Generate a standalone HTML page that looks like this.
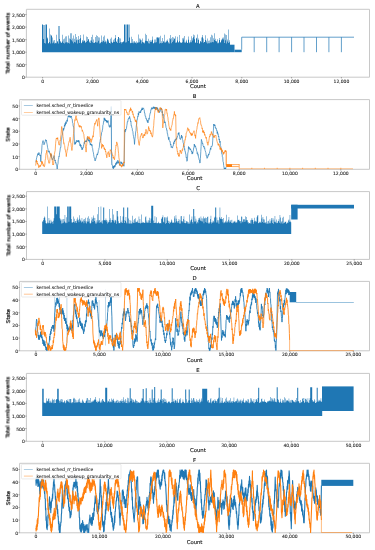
<!DOCTYPE html>
<html><head><meta charset="utf-8"><title>Figure</title>
<style>html,body{margin:0;padding:0;background:#fff;width:375px;height:550px;overflow:hidden}svg{display:block}text{fill:#1a1a1a;stroke:#1a1a1a;stroke-width:0.07px;filter:url(#tb)}.L{stroke:#000;stroke-width:0.12px}</style>
</head><body>
<svg width="375" height="550" viewBox="0 0 375 550" font-family="DejaVu Sans, Liberation Sans, sans-serif" fill="#000" text-rendering="geometricPrecision">
<defs><filter id="tb" x="-20%" y="-40%" width="140%" height="180%"><feGaussianBlur stdDeviation="0.28"/></filter></defs>
<rect width="375" height="550" fill="#fff"/>
<path d="M26.4 9.3H369.5V77.2H26.4Z" fill="none" stroke="#c8c8c8" stroke-width="1"/>
<text x="42.6" y="82.6" text-anchor="middle" font-size="4.5">0</text>
<text x="92.4" y="82.6" text-anchor="middle" font-size="4.5">2,000</text>
<text x="142.2" y="82.6" text-anchor="middle" font-size="4.5">4,000</text>
<text x="192" y="82.6" text-anchor="middle" font-size="4.5">6,000</text>
<text x="241.8" y="82.6" text-anchor="middle" font-size="4.5">8,000</text>
<text x="291.6" y="82.6" text-anchor="middle" font-size="4.5">10,000</text>
<text x="341.4" y="82.6" text-anchor="middle" font-size="4.5">12,000</text>
<text x="24.8" y="79.2" text-anchor="end" font-size="4.5">0</text>
<text x="24.8" y="66.6" text-anchor="end" font-size="4.5">500</text>
<text x="24.8" y="54.1" text-anchor="end" font-size="4.5">1,000</text>
<text x="24.8" y="41.6" text-anchor="end" font-size="4.5">1,500</text>
<text x="24.8" y="29" text-anchor="end" font-size="4.5">2,000</text>
<text x="24.8" y="16.5" text-anchor="end" font-size="4.5">2,500</text>
<path d="M42.6 77.2v1.2M92.4 77.2v1.2M142.2 77.2v1.2M192 77.2v1.2M241.8 77.2v1.2M291.6 77.2v1.2M341.4 77.2v1.2M25.2 77.2h1.2M25.2 64.7h1.2M25.2 52.2h1.2M25.2 39.7h1.2M25.2 27.1h1.2M25.2 14.6h1.2" stroke="#000" stroke-width="0.35"/>
<text x="197.9" y="7.6" text-anchor="middle" font-size="5.3" class="L">A</text>
<text x="197.9" y="88" text-anchor="middle" font-size="5.3" class="L">Count</text>
<text x="9.9" y="43.3" text-anchor="middle" font-size="5.3" class="L" style="stroke-width:0.2px" transform="rotate(-90 9.9 43.3)">Total number of events</text>
<path d="M19.6 99.6H369.5V169.3H19.6Z" fill="none" stroke="#c8c8c8" stroke-width="1"/>
<text x="35.7" y="174.7" text-anchor="middle" font-size="4.5">0</text>
<text x="86.5" y="174.7" text-anchor="middle" font-size="4.5">2,000</text>
<text x="137.4" y="174.7" text-anchor="middle" font-size="4.5">4,000</text>
<text x="188.2" y="174.7" text-anchor="middle" font-size="4.5">6,000</text>
<text x="239.1" y="174.7" text-anchor="middle" font-size="4.5">8,000</text>
<text x="289.9" y="174.7" text-anchor="middle" font-size="4.5">10,000</text>
<text x="340.8" y="174.7" text-anchor="middle" font-size="4.5">12,000</text>
<text x="18.1" y="171.2" text-anchor="end" font-size="4.5">0</text>
<text x="18.1" y="158.5" text-anchor="end" font-size="4.5">10</text>
<text x="18.1" y="145.9" text-anchor="end" font-size="4.5">20</text>
<text x="18.1" y="133.2" text-anchor="end" font-size="4.5">30</text>
<text x="18.1" y="120.6" text-anchor="end" font-size="4.5">40</text>
<text x="18.1" y="107.9" text-anchor="end" font-size="4.5">50</text>
<path d="M35.7 169.3v1.2M86.5 169.3v1.2M137.4 169.3v1.2M188.2 169.3v1.2M239.1 169.3v1.2M289.9 169.3v1.2M340.8 169.3v1.2M18.4 169.3h1.2M18.4 156.6h1.2M18.4 144h1.2M18.4 131.3h1.2M18.4 118.7h1.2M18.4 106h1.2" stroke="#000" stroke-width="0.35"/>
<text x="194.6" y="97.9" text-anchor="middle" font-size="5.3" class="L">B</text>
<text x="194.6" y="180.1" text-anchor="middle" font-size="5.3" class="L">Count</text>
<text x="10.1" y="134.4" text-anchor="middle" font-size="5.3" class="L" style="stroke-width:0.2px" transform="rotate(-90 10.1 134.4)">State</text>
<path d="M26.5 191.6H369.5V259.4H26.5Z" fill="none" stroke="#c8c8c8" stroke-width="1"/>
<text x="42.6" y="264.8" text-anchor="middle" font-size="4.5">0</text>
<text x="104.9" y="264.8" text-anchor="middle" font-size="4.5">5,000</text>
<text x="167.2" y="264.8" text-anchor="middle" font-size="4.5">10,000</text>
<text x="229.5" y="264.8" text-anchor="middle" font-size="4.5">15,000</text>
<text x="291.8" y="264.8" text-anchor="middle" font-size="4.5">20,000</text>
<text x="354.2" y="264.8" text-anchor="middle" font-size="4.5">25,000</text>
<text x="24.9" y="261.3" text-anchor="end" font-size="4.5">0</text>
<text x="24.9" y="248.7" text-anchor="end" font-size="4.5">500</text>
<text x="24.9" y="236" text-anchor="end" font-size="4.5">1,000</text>
<text x="24.9" y="223.4" text-anchor="end" font-size="4.5">1,500</text>
<text x="24.9" y="210.8" text-anchor="end" font-size="4.5">2,000</text>
<text x="24.9" y="198.1" text-anchor="end" font-size="4.5">2,500</text>
<path d="M42.6 259.4v1.2M104.9 259.4v1.2M167.2 259.4v1.2M229.5 259.4v1.2M291.8 259.4v1.2M354.2 259.4v1.2M25.3 259.4h1.2M25.3 246.8h1.2M25.3 234.1h1.2M25.3 221.5h1.2M25.3 208.9h1.2M25.3 196.2h1.2" stroke="#000" stroke-width="0.35"/>
<text x="198" y="189.9" text-anchor="middle" font-size="5.3" class="L">C</text>
<text x="198" y="270.2" text-anchor="middle" font-size="5.3" class="L">Count</text>
<text x="9.9" y="225.5" text-anchor="middle" font-size="5.3" class="L" style="stroke-width:0.2px" transform="rotate(-90 9.9 225.5)">Total number of events</text>
<path d="M19.6 281.4H369.5V350.8H19.6Z" fill="none" stroke="#c8c8c8" stroke-width="1"/>
<text x="35.9" y="356.2" text-anchor="middle" font-size="4.5">0</text>
<text x="99.4" y="356.2" text-anchor="middle" font-size="4.5">5,000</text>
<text x="162.9" y="356.2" text-anchor="middle" font-size="4.5">10,000</text>
<text x="226.3" y="356.2" text-anchor="middle" font-size="4.5">15,000</text>
<text x="289.8" y="356.2" text-anchor="middle" font-size="4.5">20,000</text>
<text x="353.3" y="356.2" text-anchor="middle" font-size="4.5">25,000</text>
<text x="18.1" y="352.7" text-anchor="end" font-size="4.5">0</text>
<text x="18.1" y="340" text-anchor="end" font-size="4.5">10</text>
<text x="18.1" y="327.4" text-anchor="end" font-size="4.5">20</text>
<text x="18.1" y="314.7" text-anchor="end" font-size="4.5">30</text>
<text x="18.1" y="302.1" text-anchor="end" font-size="4.5">40</text>
<text x="18.1" y="289.4" text-anchor="end" font-size="4.5">50</text>
<path d="M35.9 350.8v1.2M99.4 350.8v1.2M162.9 350.8v1.2M226.3 350.8v1.2M289.8 350.8v1.2M353.3 350.8v1.2M18.4 350.8h1.2M18.4 338.1h1.2M18.4 325.5h1.2M18.4 312.8h1.2M18.4 300.2h1.2M18.4 287.5h1.2" stroke="#000" stroke-width="0.35"/>
<text x="194.6" y="279.7" text-anchor="middle" font-size="5.3" class="L">D</text>
<text x="194.6" y="361.6" text-anchor="middle" font-size="5.3" class="L">Count</text>
<text x="10.1" y="316.1" text-anchor="middle" font-size="5.3" class="L" style="stroke-width:0.2px" transform="rotate(-90 10.1 316.1)">State</text>
<path d="M26.4 373.4H369.5V441.3H26.4Z" fill="none" stroke="#c8c8c8" stroke-width="1"/>
<text x="42.6" y="446.7" text-anchor="middle" font-size="4.5">0</text>
<text x="104.8" y="446.7" text-anchor="middle" font-size="4.5">10,000</text>
<text x="166.9" y="446.7" text-anchor="middle" font-size="4.5">20,000</text>
<text x="229.1" y="446.7" text-anchor="middle" font-size="4.5">30,000</text>
<text x="291.3" y="446.7" text-anchor="middle" font-size="4.5">40,000</text>
<text x="353.5" y="446.7" text-anchor="middle" font-size="4.5">50,000</text>
<text x="24.8" y="443.1" text-anchor="end" font-size="4.5">0</text>
<text x="24.8" y="430.5" text-anchor="end" font-size="4.5">500</text>
<text x="24.8" y="417.9" text-anchor="end" font-size="4.5">1,000</text>
<text x="24.8" y="405.3" text-anchor="end" font-size="4.5">1,500</text>
<text x="24.8" y="392.8" text-anchor="end" font-size="4.5">2,000</text>
<text x="24.8" y="380.1" text-anchor="end" font-size="4.5">2,500</text>
<path d="M42.6 441.3v1.2M104.8 441.3v1.2M166.9 441.3v1.2M229.1 441.3v1.2M291.3 441.3v1.2M353.5 441.3v1.2M25.2 441.2h1.2M25.2 428.6h1.2M25.2 416.1h1.2M25.2 403.4h1.2M25.2 390.9h1.2M25.2 378.2h1.2" stroke="#000" stroke-width="0.35"/>
<text x="197.9" y="371.7" text-anchor="middle" font-size="5.3" class="L">E</text>
<text x="197.9" y="452.1" text-anchor="middle" font-size="5.3" class="L">Count</text>
<text x="9.9" y="407.4" text-anchor="middle" font-size="5.3" class="L" style="stroke-width:0.2px" transform="rotate(-90 9.9 407.4)">Total number of events</text>
<path d="M19.6 463.3H369.5V532.8H19.6Z" fill="none" stroke="#c8c8c8" stroke-width="1"/>
<text x="35.9" y="538.1" text-anchor="middle" font-size="4.5">0</text>
<text x="99.4" y="538.1" text-anchor="middle" font-size="4.5">10,000</text>
<text x="162.9" y="538.1" text-anchor="middle" font-size="4.5">20,000</text>
<text x="226.3" y="538.1" text-anchor="middle" font-size="4.5">30,000</text>
<text x="289.8" y="538.1" text-anchor="middle" font-size="4.5">40,000</text>
<text x="353.3" y="538.1" text-anchor="middle" font-size="4.5">50,000</text>
<text x="18.1" y="534.7" text-anchor="end" font-size="4.5">0</text>
<text x="18.1" y="522" text-anchor="end" font-size="4.5">10</text>
<text x="18.1" y="509.4" text-anchor="end" font-size="4.5">20</text>
<text x="18.1" y="496.7" text-anchor="end" font-size="4.5">30</text>
<text x="18.1" y="484.1" text-anchor="end" font-size="4.5">40</text>
<text x="18.1" y="471.4" text-anchor="end" font-size="4.5">50</text>
<path d="M35.9 532.8v1.2M99.4 532.8v1.2M162.9 532.8v1.2M226.3 532.8v1.2M289.8 532.8v1.2M353.3 532.8v1.2M18.4 532.8h1.2M18.4 520.1h1.2M18.4 507.5h1.2M18.4 494.8h1.2M18.4 482.2h1.2M18.4 469.5h1.2" stroke="#000" stroke-width="0.35"/>
<text x="194.6" y="461.6" text-anchor="middle" font-size="5.3" class="L">F</text>
<text x="194.6" y="543.6" text-anchor="middle" font-size="5.3" class="L">Count</text>
<text x="10.1" y="498" text-anchor="middle" font-size="5.3" class="L" style="stroke-width:0.2px" transform="rotate(-90 10.1 498)">State</text>
<path d="M42 52.2V24.6H42.5V24.6H43V38.9H43.5V25.1H44V25.1H44.5V43.1H45V24.6H45.5V43.4H46V24.6H46.5V24.6H47V37.6H47.5V38.4H48V42.9H48.5V43.5H49V42H49.5V28.4H50V43.6H50.5V34.5H51V36.1H51.5V35.1H52V37.5H52.5V43.3H53V42.4H53.5V40.5H54V43.4H54.5V40H55V42.7H55.5V43.2H56V34.7H56.5V43.3H57V41H57.5V41.7H58V43.4H58.5V25.9H59V25.9H59.5V39.1H60V41.1H60.5V42.3H61V42.4H61.5V43.1H62V41.5H62.5V34.7H63V42.9H63.5V39.2H64V43.4H64.5V38.5H65V42.4H65.5V36.6H66V36.2H66.5V42.2H67V42H67.5V43.2H68V42.9H68.5V35.5H69V38.5H69.5V43.4H70V33.2H70.5V39.2H71V33.3H71.5V40.2H72V38.5H72.5V41.5H73V35.4H73.5V43.2H74V42.1H74.5V38.7H75V42.5H75.5V34.1H76V37.1H76.5V40.2H77V43.4H77.5V39.4H78V40.1H78.5V35.9H79V39H79.5V43H80V35.1H80.5V38.3H81V43.3H81.5V42.7H82V41.6H82.5V40.1H83V34.6H83.5V41.5H84V40.8H84.5V40.6H85V42.9H85.5V41.8H86V36.6H86.5V41.9H87V41.1H87.5V37H88V39.4H88.5V38.9H89V42.6H89.5V41.5H90V40.4H90.5V43H91V40.5H91.5V37.1H92V42.3H92.5V34.7H93V39.4H93.5V43.1H94V42.7H94.5V42.8H95V41.9H95.5V36.9H96V35.3H96.5V42.4H97V42.4H97.5V36H98V40.7H98.5V37.2H99V43.4H99.5V37.5H100V43.2H100.5V42.5H101V42.1H101.5V35.5H102V40.4H102.5V42.3H103V36.8H103.5V40.9H104V42.2H104.5V35.6H105V41.8H105.5V40.5H106V43.5H106.5V41.5H107V38.4H107.5V39.2H108V41.5H108.5V39.7H109V42.9H109.5V42.9H110V38.7H110.5V43.5H111V41.8H111.5V37.6H112V43H112.5V42.5H113V39.7H113.5V41.8H114V41.9H114.5V38.8H115V34.9H115.5V37.9H116V41.5H116.5V41.7H117V43H117.5V39.3H118V37H118.5V36.9H119V42.9H119.5V38.2H120V38.5H120.5V42.3H121V42H121.5V43.6H122V42.1H122.5V42.6H123V42H123.5V41H124V24.6H124.5V24.6H125V42.6H125.5V24.6H126V24.6H126.5V42.2H127V24.6H127.5V24.6H128V41H128.5V24.6H129V24.6H129.5V37.6H130V43.3H130.5V42.7H131V43.1H131.5V36.8H132V42.8H132.5V39H133V43.2H133.5V41.6H134V41H134.5V42.6H135V42.7H135.5V42.5H136V41.3H136.5V43.4H137V42.4H137.5V42.8H138V42.5H138.5V34.6H139V38.6H139.5V42.3H140V38.8H140.5V40.2H141V43.4H141.5V40.3H142V38.4H142.5V42H143V42.6H143.5V42.4H144V43.6H144.5V42.6H145V33.8H145.5V40.8H146V35H146.5V40.9H147V41.6H147.5V40.9H148V43.3H148.5V38.8H149V40.7H149.5V43.5H150V40.2H150.5V42.1H151V42.1H151.5V40.6H152V39.7H152.5V36.6H153V43.4H153.5V43H154V42.4H154.5V39.4H155V42.5H155.5V39.5H156V42.3H156.5V37.5H157V37.2H157.5V37.6H158V37.2H158.5V38.2H159V37.3H159.5V43.6H160V35.7H160.5V43.1H161V41.3H161.5V43.2H162V42.9H162.5V38.1H163V41.7H163.5V41.1H164V34.8H164.5V42.6H165V42.7H165.5V41.7H166V41.8H166.5V40.6H167V41.1H167.5V39.5H168V43.3H168.5V41.9H169V43.5H169.5V38.3H170V35.1H170.5V39.3H171V38.2H171.5V43.3H172V37H172.5V42H173V37.6H173.5V40.4H174V39H174.5V38.3H175V42.8H175.5V36.3H176V43H176.5V41.9H177V36.7H177.5V40.5H178V42.7H178.5V41.9H179V35H179.5V41.3H180V42.6H180.5V42.6H181V42.4H181.5V43.1H182V38.2H182.5V42.2H183V37.7H183.5V39.6H184V36H184.5V42.6H185V43H185.5V41.8H186V41.4H186.5V39.8H187V42.9H187.5V42.7H188V36.4H188.5V39.7H189V42.3H189.5V43.2H190V42.2H190.5V40.3H191V36.3H191.5V42.3H192V38.3H192.5V40.6H193V34.4H193.5V37.2H194V35.3H194.5V39.3H195V43.1H195.5V42.2H196V37.8H196.5V38.5H197V34.6H197.5V43.1H198V38.5H198.5V40H199V43.5H199.5V43.6H200V41.5H200.5V41.1H201V42.2H201.5V37.5H202V37.3H202.5V35.1H203V38.5H203.5V42.8H204V41.9H204.5V42.1H205V35.3H205.5V39.9H206V42.6H206.5V40.8H207V38.6H207.5V43.6H208V43.3H208.5V40.7H209V40.4H209.5V43.3H210V37.3H210.5V42.4H211V42.4H211.5V34.8H212V42.1H212.5V35.5H213V42.3H213.5V38.3H214V40H214.5V33.2H215V38.8H215.5V41H216V41H216.5V41.7H217V43.3H217.5V39.3H218V43.2H218.5V42.5H219V40H219.5V38.1H220V42.7H220.5V42.1H221V39.6H221.5V40.5H222V39.2H222.5V37.7H223V39.5H223.5V37.5H224V43H224.5V33.4H225V40.3H225.5V34.5H226V35H226.5V43.4H227V39.5H227.5V41.5H228V42.9H228.5V29.6H229V40.3H229.5V42.2H230V52.2Z" fill="#1f77b4"/>
<path d="M229.9 52.2V44.7H234.5V52.2Z" fill="#1f77b4"/>
<path d="M234.5 52.2V49.7H241.7V52.2Z" fill="#1f77b4"/>
<path d="M241.7 49.7V37.2H354M254.2 37.2V52.2M266.7 37.2V52.2M279.1 37.2V52.2M291.6 37.2V52.2M304 37.2V52.2M316.5 37.2V52.2M328.9 37.2V52.2M341.4 37.2V52.2" stroke="#1f77b4" stroke-width="0.7" fill="none"/>
<path d="M35.6 162 36 161.9 36.4 159 36.8 157.2 37.1 155.7 37.4 155.9 37.7 153.7 38 154.5 38.3 153.5 38.6 154.9 38.9 152.5 39.2 153.3 39.6 153.7 40 156 40.4 155.1 40.8 161.7 41.2 154.3 41.6 152 42 145.3 42.4 143.3 42.8 140.8 43.2 140.5 43.6 141.6 44 144.8 44.3 143.5 44.6 143.5 44.9 141.9 45.2 141.7 45.6 139.6 46 140.6 46.4 140 46.8 143.1 47.2 144.7 47.6 147.7 48 149.2 48.3 152.1 48.6 151.8 48.9 152.2 49.2 150.8 49.6 153.3 50 153.8 50.3 154.6 50.6 153.8 50.9 156.5 51.2 154.3 51.6 158 52 158 52.4 160 52.8 159.7 53.1 158.1 53.4 157.7 53.7 158.1 54 155.6 54.3 157.5 54.6 159 54.9 160.9 55.2 160 55.6 163.2 56 162.7 56.4 164.9 56.8 165.9 57.2 169 57.6 165.1 58 163.5 58.3 159.4 58.6 159.2 58.9 156.3 59.2 156.8 59.6 152.8 60 150.8 60.4 147.5 60.8 147.6 61.2 140.8 61.6 139.4 62 135.7 62.4 134.9 62.8 131.6 63 131.1 63.3 128.2 63.6 130.3 63.9 128.5 64.2 128.6 64.5 124.9 64.8 126.4 65.1 123.3 65.4 125.2 65.8 121.7 66.1 123.8 66.4 122.4 66.7 122.3 67 119.9 67.3 121.4 67.6 118.1 67.9 117.7 68.2 116 68.5 116.8 68.8 115 69.2 116.5 69.5 115.7 69.8 117.3 70.1 115.8 70.4 117.6 70.8 116.4 71.1 116.9 71.4 116 71.8 118.8 72.2 119.1 72.6 122.9 72.9 123.3 73.2 126.5 73.6 126.4 73.9 129.3 74.5 143.8 74.8 144.5 75.2 142.5 75.5 144.1 75.8 141.9 76.1 142.7 76.4 140.4 76.8 141.6 77.1 140.7 77.4 141.5 77.7 140.7 78 141.9 78.4 140.2 78.7 142.2 79 140.6 79.3 143.1 79.7 142.9 80 145.9 80.3 144.1 80.6 146.5 81 145 81.3 148 81.6 147.5 82 149.9 82.3 148.2 82.6 149.3 82.9 147.3 83.2 147.7 83.6 144.9 83.9 144.2 84.2 142.4 84.5 143.5 84.8 141.2 85.2 141.8 85.5 140.9 85.8 141.7 86.1 140.4 86.4 142 86.7 140.6 87 140.2 87.4 137.4 87.7 139.6 88 138.9 88.3 140.8 88.7 139.7 89 141.4 89.3 139.8 89.7 142.5 90 142.3 90.3 145.1 90.7 143.5 91 144.8 91.3 144 91.7 145.7 92 144.6 92.3 147.7 92.6 148.4 93 151.4 93.3 152.2 93.6 154.3 93.9 156.3 94.2 157.9 94.6 158.1 94.9 160.9 95.2 160.5 95.5 160.5 95.8 158 96.2 158.2 96.5 155.8 96.8 155.8 97.1 153.9 97.5 155 97.8 152.9 98.1 153.1 98.4 150.3 98.7 149.9 99 148 99.3 147.4 99.7 142.6 100 142.5 100.3 139.5 100.6 139.9 101 136.4 101.3 135.7 101.6 132.5 102 132.2 102.3 130.1 102.6 129 102.9 125.1 103.2 124.7 103.6 121.5 103.9 121.8 104.2 117.8 104.5 120.1 104.8 118.4 105.2 120.9 105.5 119.6 105.8 121 106.1 120.1 106.4 122.1 106.7 120.4 107 122.6 107.4 121 107.7 122.4 108 120.5 108.3 123.3 108.7 124 109 126.2 109.3 126.8 109.6 127.3 109.9 125.3 110.2 127.2 110.5 126.1 110.8 117.6 111.2 106.5 111.5 150.4 111.9 163.2 112.2 165.4 112.6 165.5 112.9 168.3 113.2 166.2 113.5 168.7 113.8 165.9 114.2 167.4 114.5 165.3 114.8 167.2 115.1 166 115.4 166 115.7 163.3 116 164.9 116.4 162.3 116.7 163.7 117 161.5 117.3 163.4 117.7 160.3 118 161 118.3 160.9 118.6 163.2 118.9 161.8 119.3 164.3 119.6 164.5 119.9 165.6 120.2 163.7 120.6 163.4 120.9 161.6 121.2 163 121.5 162.3 121.8 164.1 122.2 162.8 122.5 164.8 122.8 164 123.1 165.6 123.4 164.8 123.8 166.2 124.1 166.2 124.4 150 124.8 130.2 125.1 132.1 125.4 129 125.8 130.3 126.1 129.1 126.4 128.7 126.8 125.7 127.1 124.1 127.4 121.6 127.8 121.9 128.2 118.9 128.6 118.9 128.9 117.8 129.2 118.6 129.6 116.4 129.9 118 130.2 118.8 130.6 121.7 130.9 121.1 131.2 125.8 131.5 125.6 131.9 127.9 132.2 128.3 132.5 130.9 132.9 131.6 133.2 134.7 133.5 136.3 133.8 138.2 134.2 139.7 134.5 144.4 134.9 138.8 135.3 136.3 135.7 131.5 136 130.6 136.3 125.9 136.7 123.9 137 119.5 137.3 119.6 137.7 116.5 138 117 138.3 113.2 138.6 115.2 139 111.5 139.3 112.5 139.6 112.1 140 112.8 140.3 111.4 140.6 112.8 140.9 110.4 141.2 111.1 141.6 108.9 141.9 109.8 142.2 107.7 142.5 110 142.8 108.5 143.2 108.4 143.5 107.9 143.8 109.2 144.2 109.9 144.5 113 144.8 112.9 145.2 116.3 145.6 116.2 146 118.8 146.3 118.4 146.6 120.2 146.9 119.8 147.3 121.7 147.6 120.3 147.9 123 148.2 120.9 148.6 120.8 148.9 118.3 149.2 119.3 149.5 116.3 149.8 114.9 150.2 112.8 150.5 113 150.8 109.8 151.2 110 151.5 107.7 151.8 108.5 152.1 107.9 152.4 109.2 152.8 107.7 153.1 108.1 153.4 106.7 153.7 108.5 154 107.4 154.4 108.7 154.7 106.9 155 108.4 155.4 107.2 155.7 109.6 156 107.6 156.3 108.6 156.6 107.3 157 109.6 157.3 107.6 157.6 109.3 157.9 108.7 158.2 111.3 158.6 109.8 158.9 111.1 159.2 111 159.5 112.6 159.8 111.5 160.2 111.4 160.5 109.6 160.8 109.9 161.2 107.9 161.5 109.2 161.8 109.3 162.1 112.8 162.4 111.4 162.8 115.5 163.1 114.2 163.4 117.6 163.7 117.6 164.1 119.4 164.4 120.2 164.7 123 165.1 121.8 165.4 123.8 165.7 124.9 166 127.5 166.4 127.9 166.7 130.1 167 129.9 167.3 133.7 167.6 133.6 167.9 136.3 168.2 136.7 168.6 139.6 168.9 137.2 169.2 140.2 169.5 140.7 169.9 141.8 170.2 141.6 170.5 145.1 170.9 144.3 171.2 147.5 171.5 146.6 171.8 147.3 172.2 147.4 172.5 148.1 172.9 145.8 173.3 145.7 173.7 142.5 174 143.8 174.3 140.9 174.7 142 175 139.7 175.3 140.6 175.7 139.2 176 139.9 176.3 138.2 176.7 139.3 177 136.9 177.3 137.2 177.6 135.9 177.9 135.5 178.3 133 178.6 134.4 178.9 132.4 179.2 134.4 179.6 136 179.9 139.1 180.2 139.3 180.5 139.5 180.8 138 181.1 138.1 181.5 135 181.8 137.8 182.1 136.4 182.4 139.5 182.8 140.1 183.1 142.5 183.4 142.8 183.8 146.6 184.1 145.9 184.4 149.4 184.7 148.8 185 151.5 185.3 151.5 185.6 153.8 185.9 153.8 186.2 157.9 186.6 157.4 186.9 161.3 187.2 160.9 187.5 158.6 187.8 153 188.2 151.8 188.5 146.5 188.8 148.7 189.2 147.3 189.5 148.9 189.8 148.7 190.2 150.1 190.5 148.7 190.8 149.9 191.1 150.1 191.4 151.6 191.8 151 192.1 154.1 192.4 152.1 192.7 153.4 193 151.8 193.4 150.2 193.7 147.9 194 147.9 194.3 144 194.6 146.3 195 145.4 195.3 147 195.6 146.4 196 148.6 196.3 148.5 196.6 150.7 196.9 151.3 197.2 153.7 197.6 152.7 197.9 155.2 198.2 154.6 198.5 157.5 198.8 157.7 199.1 159.9 199.5 160 199.8 163.1 200.1 162.7 200.4 158.5 200.8 151.3 201.1 146.4 201.4 139.4 201.7 140.8 202.1 141.6 202.4 143.6 202.7 143.1 203.1 145.6 203.4 145.9 203.7 147.1 204 146.3 204.4 148.4 204.7 147.8 205 150.4 205.3 150.7 205.6 152.3 205.9 152.7 206.2 155.9 206.6 155.7 206.9 158.4 207.2 158.2 207.5 158 207.9 155.6 208.2 156.2 208.5 154.1 208.9 155 209.2 153 209.5 153 209.8 151.2 210.1 150.1 210.5 148.1 210.8 149.5 211.1 146.5 211.4 146.9 211.8 146.1 212.1 146.3 212.4 145.2 212.7 140.9 213.1 133.4 213.4 130.4 213.7 124.1 214 125.5 214.3 124.5 214.6 125.8 215 124.9 215.3 128 215.6 127.6 215.9 128.8 216.2 128.3 216.6 130.5 216.9 130.2 217.2 133.5 217.5 131.7 217.8 134.3 218.2 133.8 218.5 137 218.8 136.5 219.1 140.1 219.4 139.2 219.8 142.6 220.1 141.2 220.4 145.5 220.8 146.7 221.1 148.5 221.4 150.2 221.7 153.6 222.1 153.5 222.4 156.8 222.7 157.1 223 161.5 223.3 161.8 223.7 165.6 224 167.5 224.3 169 224.7 167.8 225 169 225.3 168 225.7 169 226 166.7" stroke="#1f77b4" stroke-width="0.65" fill="none" stroke-linejoin="round" opacity="1"/>
<path d="M111.4 165V108" stroke="#1f77b4" stroke-width="0.5" opacity="0.6"/>
<path d="M35.6 165.6 36 162.9 36.4 160 36.7 162.3 37 161 37.3 164.1 37.6 163 38 165.1 38.4 164.7 38.8 167.8 39.1 166 39.4 166.3 39.8 165.4 40.1 167 40.4 165.1 40.7 165.7 41 164.5 41.4 164.5 41.7 161 42 163.3 42.3 161.7 42.6 164.1 42.9 163.7 43.2 165.8 43.6 164.5 44 166.8 44.4 166.7 44.8 164.8 45.2 160.2 45.6 158.4 46 153.1 46.4 153 46.8 150.2 47.2 154.7 47.6 155.3 48 159.5 48.4 160.2 48.8 163.2 49.2 163.2 49.6 163.1 50 158.7 50.4 156.7 50.8 152.9 51.2 155.2 51.6 154.8 52 159.5 52.4 160.8 52.8 164.9 53.2 164 53.6 164.6 54 157.6 54.4 154.5 54.8 152 55.2 150.5 55.6 143.8 56 139.9 56.4 138 56.8 138.8 57.1 137.8 57.4 139.2 57.7 137.7 58 140.8 58.4 141.4 58.8 144.7 59.2 144.6 59.6 145.2 60 140.2 60.4 140.6 60.7 136.2 61 135.1 61.4 129.9 61.7 126.5 62 128.5 62.4 132.5 62.7 133 63 136.6 63.4 138.8 63.7 143.4 64 142.8 64.3 145.2 64.7 145.6 65 149.6 65.3 149.5 65.7 152.4 66 152.6 66.3 156.6 66.6 153.5 66.9 152.4 67.2 149.6 67.6 149.8 67.9 146.6 68.2 146.3 68.5 143.5 68.8 143 69.1 141.1 69.5 141.2 69.8 138.3 70.1 137.3 70.4 138.8 70.7 142.7 71 142.9 71.3 146.5 71.6 147.2 71.9 150.5 72.2 147.5 72.6 145.3 72.9 141.1 73.2 139.1 73.5 133.5 73.8 131 74.2 126.3 74.5 122.8 74.8 119.7 75.2 120.5 75.5 117.4 75.8 117.2 76.1 115.4 76.4 119.7 76.8 118.8 77.1 120.9 77.4 120.8 77.7 122.5 78 122.5 78.4 124.7 78.7 124.7 79 126.5 79.4 125.7 79.7 127.3 80 125.4 80.3 126.8 80.7 126.4 81 127.3 81.3 126.4 81.6 128.7 81.9 129.3 82.2 131.3 82.5 130.3 82.9 132 83.2 132.2 83.5 133.7 83.8 134.1 84.2 138.1 84.5 139.2 84.8 142.8 85.1 144 85.4 146.8 85.8 148.5 86.1 152.1 86.4 146.5 86.8 143.8 87.1 139.8 87.4 136.9 87.7 136.1 88.1 137.3 88.4 137 88.7 139 89.1 136.6 89.4 138.9 89.7 137.8 90 140 90.3 138.8 90.7 141.7 91 141.5 91.3 142.4 91.6 139.5 91.9 140.2 92.2 137.8 92.6 138 92.9 135.7 93.2 137 93.5 133 93.8 130.6 94.2 126.2 94.5 125.2 94.8 123.1 95.2 124.3 95.5 121.9 95.8 121.8 96.2 120.6 96.5 120.8 96.8 119.4 97.1 122.1 97.4 123.3 97.7 126.2 98 122.2 98.3 120.3 98.7 118 99 117.8 99.3 120.6 99.7 127 100 130.9 100.3 136.9 100.6 137.8 100.9 142.7 101.3 143.5 101.6 148.4 101.9 146.5 102.2 146.8 102.5 144.2 102.9 146.4 103.2 145 103.5 146.1 103.8 147.2 104.2 149.1 104.5 147.8 104.8 150 105.2 149 105.5 151.9 105.8 151.3 106.2 155.1 106.5 155 106.8 157.8 107.1 154.9 107.4 153.9 107.8 152.6 108.1 152 108.4 151.6 108.7 154.7 109 155.2 109.3 157 109.6 153.7 109.9 154.2 110.3 149.6 110.6 150.4 110.9 150.1 111.2 151.2 111.6 151.7 111.9 153.1 112.2 153.6 112.6 155.6 112.9 155.2 113.2 158.2 113.5 156.9 113.8 158.5 114.2 158.4 114.5 159.8 114.8 156.5 115.1 155.5 115.4 150.3 115.7 148.5 116 145.1 116.3 145.6 116.7 141.9 117 142.9 117.3 143.2 117.7 145.7 118 147.6 118.3 151 118.6 153.3 118.9 157.7 119.3 159.8 119.6 165.1 119.9 164.1 120.2 165.6 120.6 164.8 120.9 166.1 121.2 165.3 121.5 167.2 121.8 165.8 122.2 166.4 122.5 164.1 122.8 166 123.1 163.9 123.4 164.5 123.8 161.9 124.1 163.1 124.5 109.1 124.8 110 125.1 109.2 125.5 110.3 125.8 109.3 126.1 110.1 126.4 110.7 126.8 113 127.1 112.5 127.4 114.4 127.8 113.9 128.2 115.1 128.6 114.9 128.9 114.5 129.3 111.4 129.6 111.8 129.9 109.5 130.3 110.9 130.6 107.7 130.9 109.9 131.2 109.2 131.6 110.5 131.9 110.5 132.2 112.5 132.6 111.2 132.9 114.6 133.2 113.8 133.5 116.3 133.8 116 134.1 118.1 134.5 116.9 134.8 119.8 135.1 119.8 135.4 121.6 135.8 119.8 136.1 122.1 136.4 120.8 136.7 126 137.1 127.4 137.4 131.9 137.7 133.7 138 138.7 138.3 139.6 138.7 143.6 139 144.7 139.3 145.4 139.7 141.3 140 140.4 140.3 136.4 140.7 136.5 141.1 134.3 141.5 134.6 141.8 133 142.2 135.6 142.5 136.4 142.8 138.1 143.1 137 143.5 137.2 143.8 134.5 144.1 135.9 144.5 134.2 144.8 135.7 145.2 132.5 145.6 133.5 146 129.3 146.3 131.3 146.7 131.7 147 134.2 147.3 133.7 147.6 133.4 147.9 130.6 148.3 130.5 148.6 126.5 148.9 128.9 149.2 128.5 149.6 131 149.9 130.1 150.2 131.5 150.5 130.8 150.8 133.9 151.2 132.7 151.5 135.2 151.8 134.9 152.2 137 152.5 137.1 152.9 134.6 153.3 128.8 153.7 125.5 154 120.2 154.3 118.6 154.7 112.6 155 110.6 155.3 108.7 155.7 110.1 156 107.1 156.3 108 156.6 107.9 157 109.7 157.3 109.3 157.6 111 158 111.9 158.3 112.8 158.6 110.8 158.9 112 159.2 109.5 159.6 109.7 159.9 107.7 160.2 108.6 160.5 107.6 160.8 109.2 161.1 108.3 161.5 109.8 161.8 108.9 162.1 110 162.4 118.4 162.8 127.9 163.1 124.2 163.4 123.8 163.8 119.6 164.1 118 164.4 115.1 164.8 114.5 165.1 109.9 165.4 109.1 165.8 109.1 166.2 110.6 166.6 109.1 166.9 113.2 167.2 112.9 167.6 116.4 167.9 117.2 168.2 120.7 168.6 122.2 168.9 125.8 169.2 126.6 169.5 128.9 169.8 128.3 170.2 130.2 170.5 129.3 170.8 130.6 171.2 127.6 171.5 127.1 171.8 125.4 172.1 125.1 172.4 121.8 172.8 120.1 173.1 118.1 173.4 118.4 173.8 114.8 174.1 115.1 174.4 111.4 174.7 114.8 175.1 114 175.4 116.2 175.7 115 176 131.4 176.3 145.3 176.6 148.1 176.9 147.6 177.3 151.7 177.6 151.3 177.9 154.4 178.2 153.2 178.6 156.2 178.9 155.3 179.2 156.5 179.6 154 179.9 153 180.2 150 180.5 151.6 180.8 151.1 181.2 153.3 181.5 153.7 181.8 151.8 182.2 149.6 182.5 150.5 182.8 148.2 183.2 147.8 183.6 144.7 184 145.5 184.3 143.6 184.6 143 184.9 139.5 185.3 139.9 185.6 136.6 185.9 137.2 186.2 132.9 186.6 132.6 186.9 131.7 187.2 130.8 187.6 127.8 187.9 127.8 188.2 128.4 188.5 130.5 188.9 129.2 189.2 131.5 189.5 131.4 189.8 132.8 190.1 132.5 190.4 133.7 190.8 132.9 191.1 135.3 191.4 133.5 191.7 135.7 192 134.1 192.4 135.2 192.7 133 193 132.8 193.4 132.4 193.7 132.1 194 130.7 194.3 133.3 194.6 134 195 136.1 195.3 135.2 195.6 138.4 195.9 134.2 196.2 133.2 196.6 129.7 196.9 129.4 197.2 126 197.5 125.8 197.8 122.7 198.2 123.3 198.5 120 198.8 118.9 199.2 118 199.5 118.3 199.8 117.6 200.2 120.3 200.5 120.7 200.8 124.4 201.1 124.4 201.4 126 201.8 126.3 202.1 129 202.4 128.4 202.7 132.3 203 130.9 203.3 132.5 203.6 130.5 204 133.2 204.3 132.2 204.6 135.3 204.9 134.3 205.3 135.9 205.6 136.6 205.9 138.3 206.3 137.2 206.6 139.6 206.9 140.9 207.2 143.1 207.6 142.4 207.9 145.3 208.2 143.2 208.5 142.9 208.9 140.5 209.2 138.4 209.5 136.4 209.8 137 210.1 134.4 210.4 135.3 210.8 133.9 211.1 134.3 211.4 131.5 211.7 133.2 212 133.2 212.4 135.3 212.7 133.9 213 135.2 213.4 136 213.7 137.5 214 135.9 214.3 137.5 214.6 135.5 215 135.8 215.3 135.3 215.6 136 215.9 135.5 216.2 138.2 216.6 138.8 216.9 141.1 217.2 141.7 217.5 143.2 217.8 143.7 218.2 145.3 218.5 143.7 218.8 145.3 219.2 144.6 219.5 147 219.8 146.6 220.1 149.5 220.4 147.4 220.8 149.6 221.1 148.1 221.4 150.4 221.7 149.2 222.1 151.9 222.4 150.2 222.7 152.5 223.1 152.4 223.4 154.4 223.7 152.1 224.1 153.5 224.4 152 224.7 152.1 225 150.5 225.3 152 225.7 150.2 226 151" stroke="#ff7f0e" stroke-width="0.65" fill="none" stroke-linejoin="round" opacity="1"/>
<path d="M226.2 151V165.6" stroke="#ff7f0e" stroke-width="0.9" fill="none"/>
<rect x="226.2" y="164.1" width="5.8" height="2.9" fill="#ff7f0e"/>
<path d="M232 164.6H239.2M232 166.6H238.8M239.2 164.1V168.6" stroke="#ff7f0e" stroke-width="0.8" fill="none" stroke-opacity="0.85"/>
<path d="M239.2 168.7H353" stroke="#ff7f0e" stroke-width="0.7" fill="none" stroke-opacity="0.6"/>
<path d="M251.8 168.8v-1.0M264.5 168.8v-1.0M277.2 168.8v-1.0M289.9 168.8v-1.0M302.6 168.8v-1.0M315.3 168.8v-1.0M328 168.8v-1.0M340.8 168.8v-1.0" stroke="#ff7f0e" stroke-width="0.7"/>
<path d="M42.2 234.1V221.5H42.7V221.5H43.2V220.1H43.7V218.1H44.2V216.6H44.7V217.4H45.2V220.6H45.7V223.1H46.2V223.4H46.7V223.6H47.2V206.4H47.7V222.4H48.2V223.3H48.7V217.9H49.2V220.6H49.7V223.1H50.2V223.4H50.7V219.7H51.2V222.5H51.7V221.1H52.2V221.9H52.7V223.7H53.2V220.7H53.7V218.3H54.2V206.4H54.7V206.4H55.2V206.4H55.7V206.4H56.2V214.2H56.7V206.6H57.2V206.6H57.7V206.6H58.2V206.6H58.7V206.6H59.2V206.6H59.7V218.2H60.2V220.4H60.7V218.9H61.2V223.6H61.7V220.3H62.2V223.2H62.7V219H63.2V222.7H63.7V218.9H64.2V221.6H64.7V214.9H65.2V222.5H65.7V223.3H66.2V217.3H66.7V222.7H67.2V206.4H67.7V206.4H68.2V206.4H68.7V221.7H69.2V206.4H69.7V206.4H70.2V206.4H70.7V206.4H71.2V219.1H71.7V222.6H72.2V222.7H72.7V222.1H73.2V216.4H73.7V222.1H74.2V218.7H74.7V222.9H75.2V221.2H75.7V221.1H76.2V223.1H76.7V219.2H77.2V217.4H77.7V220.6H78.2V219.8H78.7V222.3H79.2V215.3H79.7V218.8H80.2V220.3H80.7V221.3H81.2V222.5H81.7V217.9H82.2V221.6H82.7V221.5H83.2V219.4H83.7V223.2H84.2V218.9H84.7V220.9H85.2V217.7H85.7V222.5H86.2V223.6H86.7V221.1H87.2V217.8H87.7V222.1H88.2V216.3H88.7V221.2H89.2V218.7H89.7V223.2H90.2V223.4H90.7V222.8H91.2V220.6H91.7V217.3H92.2V218.7H92.7V221.9H93.2V215.5H93.7V217.7H94.2V220.9H94.7V218H95.2V223.6H95.7V221.7H96.2V223.4H96.7V220.2H97.2V214.3H97.7V222.5H98.2V206.9H98.7V220.4H99.2V220.1H99.7V223.1H100.2V222.1H100.7V206.4H101.2V222.6H101.7V220.8H102.2V223.6H102.7V220.3H103.2V207.6H103.7V207.6H104.2V219.9H104.7V220.4H105.2V220.3H105.7V218.6H106.2V220.1H106.7V221.7H107.2V223.4H107.7V220.4H108.2V222.6H108.7V222.1H109.2V208.9H109.7V220.1H110.2V218.3H110.7V222.8H111.2V222.2H111.7V219.9H112.2V209.1H112.7V219.9H113.2V214.4H113.7V221.2H114.2V222.8H114.7V219.8H115.2V220.1H115.7V221.2H116.2V223.7H116.7V210.9H117.2V210.9H117.7V216.4H118.2V221.2H118.7V223.3H119.2V222.9H119.7V223.2H120.2V216.1H120.7V222.3H121.2V222.4H121.7V220.6H122.2V222.9H122.7V216.5H123.2V207.6H123.7V207.6H124.2V223H124.7V220H125.2V220.9H125.7V217H126.2V222.5H126.7V223.6H127.2V207.6H127.7V207.6H128.2V218.5H128.7V223.5H129.2V223.6H129.7V220.1H130.2V223.5H130.7V220.8H131.2V223.6H131.7V223.4H132.2V215.7H132.7V222.2H133.2V222.9H133.7V220.2H134.2V219.1H134.7V223.1H135.2V218.2H135.7V221.8H136.2V222.2H136.7V221.7H137.2V220.4H137.7V222.6H138.2V223.1H138.7V216.5H139.2V223H139.7V219.1H140.2V223.6H140.7V222.8H141.2V214.5H141.7V223H142.2V221.7H142.7V222.9H143.2V222.1H143.7V222.7H144.2V222.8H144.7V223.1H145.2V217.2H145.7V216.3H146.2V222.5H146.7V220.4H147.2V222.9H147.7V222H148.2V220.3H148.7V223.1H149.2V217.8H149.7V220.4H150.2V222.9H150.7V218.4H151.2V205.8H151.7V205.8H152.2V205.8H152.7V205.8H153.2V220.6H153.7V222.9H154.2V222.9H154.7V216.2H155.2V222.7H155.7V222.7H156.2V217.3H156.7V223.2H157.2V223.3H157.7V223.1H158.2V221.7H158.7V222.8H159.2V223.4H159.7V223H160.2V222.9H160.7V223.5H161.2V219.1H161.7V217.8H162.2V217H162.7V215.2H163.2V221.7H163.7V222.4H164.2V216.9H164.7V218.3H165.2V223.7H165.7V217H166.2V222.9H166.7V217.7H167.2V216.6H167.7V220.4H168.2V223.1H168.7V221.1H169.2V223.7H169.7V221.8H170.2V222.9H170.7V222H171.2V219.4H171.7V220.5H172.2V222.6H172.7V223.1H173.2V222.3H173.7V223.1H174.2V216.3H174.7V218.6H175.2V222.5H175.7V215.2H176.2V218.7H176.7V221.2H177.2V221.4H177.7V222.9H178.2V221H178.7V219H179.2V223.6H179.7V220.3H180.2V223.4H180.7V216.2H181.2V216.1H181.7V221.2H182.2V221.2H182.7V222.5H183.2V219.1H183.7V216.3H184.2V222.9H184.7V220.2H185.2V223.2H185.7V222.9H186.2V221.2H186.7V221.2H187.2V221.8H187.7V223.5H188.2V222.3H188.7V223.7H189.2V214.5H189.7V223.5H190.2V221.6H190.7V220H191.2V219.2H191.7V216.5H192.2V222H192.7V223.5H193.2V208.9H193.7V208.9H194.2V221.6H194.7V216.2H195.2V221.6H195.7V218.7H196.2V223.6H196.7V220.6H197.2V222.1H197.7V223.3H198.2V219.8H198.7V218H199.2V217.8H199.7V219.4H200.2V220.7H200.7V216.6H201.2V221.2H201.7V218.3H202.2V221.5H202.7V218.6H203.2V216.5H203.7V223.2H204.2V218.3H204.7V218.5H205.2V217.4H205.7V222.1H206.2V218.1H206.7V222.9H207.2V217.1H207.7V216.6H208.2V223.5H208.7V222.5H209.2V223.6H209.7V222.2H210.2V219H210.7V215.7H211.2V223.5H211.7V222.1H212.2V222.8H212.7V220.6H213.2V221.3H213.7V222.5H214.2V217.8H214.7V216.8H215.2V207.6H215.7V207.6H216.2V222.5H216.7V217.4H217.2V220.2H217.7V222.5H218.2V220.2H218.7V223.7H219.2V217.2H219.7V207.6H220.2V218.5H220.7V219H221.2V216.9H221.7V219.3H222.2V218.9H222.7V222.2H223.2V218.1H223.7V223.3H224.2V222.2H224.7V222.8H225.2V220.7H225.7V222.1H226.2V214.7H226.7V222.8H227.2V221.2H227.7V222.3H228.2V219.7H228.7V217H229.2V222.6H229.7V220.8H230.2V221.7H230.7V220.1H231.2V223.1H231.7V219.8H232.2V223.2H232.7V222.6H233.2V222.5H233.7V221.2H234.2V221.7H234.7V220.7H235.2V222.7H235.7V221.8H236.2V222.5H236.7V222.5H237.2V215.6H237.7V220.3H238.2V220.1H238.7V219.4H239.2V220.7H239.7V221.4H240.2V221H240.7V223.2H241.2V216.5H241.7V216.8H242.2V221.6H242.7V222.3H243.2V219.3H243.7V219.6H244.2V219.2H244.7V222.1H245.2V216.2H245.7V220.6H246.2V217H246.7V219.9H247.2V220.2H247.7V222.4H248.2V222.3H248.7V223.8H249.2V222.9H249.7V223H250.2V220.2H250.7V223.8H251.2V219.7H251.7V218.1H252.2V219.8H252.7V220.3H253.2V223.7H253.7V222H254.2V217.7H254.7V221.1H255.2V220.8H255.7V222.2H256.2V221.6H256.7V217.3H257.2V215.7H257.7V215.1H258.2V223.3H258.7V222.9H259.2V221.7H259.7V222.6H260.2V221.8H260.7V223H261.2V214.8H261.7V218.5H262.2V221.9H262.7V217.1H263.2V219.2H263.7V223H264.2V219.4H264.7V222.5H265.2V223.3H265.7V222H266.2V216.2H266.7V223.7H267.2V223.5H267.7V221.2H268.2V220.8H268.7V223.8H269.2V222.7H269.7V219.3H270.2V223.2H270.7V221.3H271.2V218.1H271.7V219.8H272.2V222.9H272.7V217.9H273.2V223.7H273.7V219.4H274.2V221.8H274.7V216.1H275.2V221.7H275.7V222.8H276.2V219.6H276.7V223.3H277.2V222.9H277.7V221.5H278.2V221.1H278.7V219.3H279.2V222.8H279.7V214.9H280.2V217.5H280.7V223.4H281.2V222.3H281.7V220.9H282.2V217.7H282.7V223.8H283.2V216.7H283.7V222.9H284.2V222.8H284.7V221.7H285.2V221.9H285.7V221.5H286.2V223.7H286.7V223.2H287.2V222.2H287.7V222.9H288.2V220.5H288.7V219.4H289.2V221.8H289.7V214.9H290.2V221.6H290.7V222.3H291.2V234.1Z" fill="#1f77b4"/>
<path d="M291.2 234.1V204.8H297.6V219.5H291.2Z" fill="#1f77b4"/>
<rect x="291.2" y="204.8" width="62.8" height="3.7" fill="#1f77b4"/>
<path d="M35.3 333 35.6 332.4 35.8 327.8 36.1 326.4 36.3 321.7 36.6 319.2 36.9 320.6 37.1 326 37.4 325.8 37.6 331.8 37.9 331.9 38.2 336.3 38.4 335.1 38.7 339.4 38.9 335.7 39.2 339.9 39.5 337.2 39.7 337.6 40 334.9 40.3 336.8 40.6 331.8 40.8 336.3 41.1 332.1 41.4 338.2 41.6 333.4 41.9 337.5 42.2 336.8 42.5 340.9 42.7 338.8 43 344 43.2 340.6 43.5 344.5 43.8 340.1 44 345.9 44.2 342.6 44.5 346.2 44.8 341.3 45 344.5 45.3 344 45.5 347.5 45.8 346.5 46 350 46.3 347.1 46.6 350.5 46.9 347.8 47.2 350.5 47.5 349.3 47.8 349.3 48 343.5 48.3 347.2 48.5 344.7 48.8 346.3 49.1 342.4 49.3 342.3 49.6 336.1 49.8 340.3 50.1 333.8 50.4 334.9 50.6 331.2 50.9 334 51.1 329.2 51.4 330.7 51.7 327.3 51.9 328 52.2 326.2 52.4 326.4 52.7 325.1 53 328.9 53.2 325.6 53.5 328.2 53.7 325.1 54 331.7 54.3 323.3 54.5 320.2 54.8 312.7 55 312 55.3 306.4 55.6 306.8 55.8 302.5 56.1 305.4 56.3 300.4 56.6 300.1 56.9 298 57.1 302.9 57.4 297.8 57.6 303.6 57.9 298.8 58.2 303.2 58.4 300.7 58.7 303.5 58.9 303.3 59.2 306.9 59.5 303.3 59.7 309.7 60 307.4 60.3 309.8 60.6 308.1 60.8 314.1 61.1 310.6 61.4 314.1 61.6 309.3 61.9 314.3 62.1 310.7 62.4 312.8 62.7 308.1 62.9 314.2 63.2 310.5 63.5 315.3 63.8 312.9 64 319.1 64.3 315 64.5 321 64.8 318.2 65 320 65.3 319.2 65.5 323.7 65.8 317.9 66 322.5 66.3 321.5 66.6 325.7 66.8 324.2 67.1 329 67.4 324.9 67.7 331 67.9 326.6 68.2 331.8 68.5 328.2 68.7 330 69 329.1 69.3 330.6 69.6 327.3 69.8 329 70.1 325.9 70.4 328.7 70.6 325.3 70.9 330.2 71.2 325.4 71.5 330 71.7 327.1 72 331.2 72.3 325.3 72.5 328.2 72.8 320.4 73 321.3 73.3 315.2 73.6 315.3 73.8 312 74.1 310.5 74.3 304.6 74.6 306.4 74.9 303.8 75.1 308.9 75.4 310 75.6 314.2 75.9 309.9 76.2 317.2 76.4 314.6 76.7 319 76.9 316.7 77.2 320.7 77.5 320.7 77.7 323.2 78 322.7 78.2 327.1 78.5 325.6 78.8 324.5 79.1 322.7 79.4 323.1 79.7 317.7 80 322.5 80.2 320.9 80.5 326 80.7 321.9 81 325.6 81.3 323.3 81.5 328 81.8 325.7 82 328.8 82.3 323.6 82.6 329.6 82.8 326.5 83.1 330.8 83.3 331.2 83.6 333.8 83.9 329.1 84.1 331.5 84.4 327.6 84.6 327.7 84.9 323.9 85.2 326.7 85.4 321 85.7 323.5 85.9 320 86.2 322.1 86.5 313.7 86.7 316 87 307 87.2 308.7 87.5 302.5 87.8 303.2 88 301.9 88.3 302.9 88.5 299.6 88.8 303.8 89.1 302.1 89.3 306.8 89.6 306.4 89.8 312.4 90.1 311 90.4 315.5 90.6 313.2 90.9 316.4 91.1 314.8 91.4 318.7 91.7 308.7 92 301.9 92.3 300.6 92.5 303.5 92.8 300.7 93 306 93.3 303.6 93.6 305.5 93.8 303.3 94.1 307.9 94.3 304.6 94.6 309.4 94.9 305.2 95.1 305.2 95.4 299.1 95.6 303.3 95.9 296.9 96.2 301.9 96.4 300.5 96.7 303.5 96.9 302.2 97.2 307.1 97.5 306.3 97.7 311.2 98 313.6 98.3 319.8 98.6 319.8 98.8 326.7 99.1 327.8 99.4 332 99.6 330.5 99.9 333.1 100.1 330.3 100.4 336.3 100.7 333.4 100.9 334.5 101.2 331.5 101.4 332.7 101.7 330.5 102 335.9 102.2 332.9 102.5 336.8 102.7 333.6 103 338.3 103.3 338 103.5 338.7 103.8 335.6 104 336 104.3 334.3 104.6 336.8 104.9 330.8 105.2 333 105.5 328.2 105.8 330.9 106 326 106.3 327.6 106.5 324.7 106.8 325.4 107.1 319.9 107.3 320.2 107.6 312.3 107.8 311.5 108.1 305.3 108.4 307.4 108.6 302.1 108.9 306.6 109.1 302.5 109.4 303.5 109.7 302.3 109.9 305.9 110.2 300.5 110.4 302.4 110.7 297.3 111 302.9 111.3 295.9 111.6 310.1 111.9 316.8 112.2 332.2 112.6 341.6 112.9 343.6 113.1 343.7 113.4 347.7 113.6 344.7 113.9 350.5 114.2 345.4 114.4 345.8 114.7 341.6 114.9 343.1 115.2 334.9 115.5 340.2 115.7 335.7 116 336.6 116.2 334.7 116.5 336.2 116.8 333.9 117.1 339.4 117.4 338.6 117.7 343.7 118 341.2 118.2 345.8 118.5 342.8 118.7 347.5 119 346.5 119.3 348.5 119.5 343.9 119.8 344.8 120 341.2 120.3 343.9 120.6 338.2 120.8 339.5 121.1 331.5 121.3 331.7 121.6 327 121.9 328.6 122.1 322.9 122.4 324.3 122.6 318.6 122.9 319.4 123.2 313.6 123.4 316.2 123.7 311.5 123.9 313.9 124.2 308.4 124.5 313.5 124.7 311.2 125 315.3 125.2 313.7 125.5 320.9 125.8 317.3 126 317.3 126.3 315.1 126.5 314.9 126.8 311.3 127.1 313.4 127.3 310.7 127.6 310.6 127.8 308 128.1 311.2 128.4 310.5 128.6 313.3 128.9 312 129.1 316.6 129.4 316.2 129.7 321.8 130 318.4 130.3 321.5 130.6 319.9 130.9 322.5 131.1 323 131.4 327 131.6 325.5 131.9 332.2 132.2 330.1 132.4 336 132.7 337.6 132.9 345.3 133.2 347.1 133.5 347.9 133.7 344.9 134 346.1 134.2 341.3 134.5 343.7 134.8 338.6 135 342.2 135.3 338.6 135.5 341.2 135.8 334.3 136.1 338.3 136.3 335.4 136.6 339.5 136.8 337.2 137.1 341.6 137.4 332.3 137.7 326.2 138 322.8 138.2 323.1 138.5 318 138.7 318.4 139 311.2 139.3 312.9 139.5 309 139.8 314.5 140 308.9 140.3 311.3 140.6 308.2 140.8 313.4 141.1 310.3 141.3 313.1 141.6 310.4 141.9 315.4 142.1 315.8 142.4 319.3 142.6 319.6 142.9 324.8 143.2 320.6 143.4 319.3 143.7 316.2 143.9 318.9 144.2 314.3 144.5 317.1 144.7 311.1 145 311 145.2 307.7 145.5 308.9 145.8 306.4 146 307.4 146.3 305 146.5 308.2 146.8 303.3 147.1 308 147.3 305.2 147.6 308.8 147.8 306 148.1 312.9 148.4 313.4 148.6 317.8 148.9 317.9 149.1 324.7 149.4 325.8 149.7 331.7 150 331 150.3 337.8 150.6 338.6 150.9 341.4 151.1 339.4 151.4 343.8 151.6 342 151.9 345.5 152.2 343 152.4 348.5 152.7 346.5 152.9 350.5 153.2 348.8 153.5 350.1 153.7 345.3 154 348.3 154.2 342.7 154.5 344.7 154.8 341.8 155.1 340.7 155.4 338.5 155.7 340 156.1 319.8 156.4 309.2 156.7 305.9 156.9 307.8 157.2 304.8 157.4 306.4 157.7 303.7 158 308 158.2 307.3 158.5 311.5 158.7 311.8 159 313.8 159.3 315 159.5 317.8 159.8 316.8 160 322.7 160.3 320 160.6 322.3 160.9 317.6 161.2 321.1 161.5 318.1 161.8 322.8 162 320.7 162.3 326.9 162.5 323.6 162.8 327.3 163.1 326.7 163.3 331.7 163.6 330 163.8 334.8 164.1 332.8 164.4 337.9 164.6 337.3 164.9 341.1 165.1 340.2 165.4 342.9 165.7 340.2 165.9 340.9 166.2 336.9 166.4 337.5 166.7 333.1 167 335.2 167.2 328.7 167.5 329.4 167.7 323.5 168 326.6 168.3 324.6 168.5 329.2 168.8 324.4 169 330.4 169.3 331.9 169.6 334.5 169.8 333.2 170.1 339 170.3 338.9 170.6 345.2 170.9 342.1 171.1 346.3 171.4 345.8 171.6 350.2 171.9 347.2 172.2 347.1 172.4 341.3 172.7 342.6 172.9 337.6 173.2 339.1 173.5 338.3 173.7 344.6 174 342.4 174.2 348.9 174.5 347.6 174.8 343.4 175.1 333 175.4 329 175.7 318.2 176 323.2 176.2 323.3 176.5 326.4 176.7 325.8 177 331.9 177.3 328.8 177.5 332.5 177.8 333.2 178 335.7 178.3 333.7 178.6 334.7 178.8 330.6 179.1 331.5 179.3 326.3 179.6 327.1 179.9 322.2 180.1 321.5 180.4 317.5 180.6 318.2 180.9 311.6 181.2 318.1 181.4 317.5 181.7 322.6 181.9 321.7 182.2 326.3 182.5 323.4 182.7 328.4 183 327.9 183.2 333.8 183.5 332.2 183.8 335.1 184 333.9 184.3 339.7 184.5 337.1 184.8 341.6 185.1 337.5 185.3 336.8 185.6 333.9 185.8 336.3 186.1 330.1 186.4 333.1 186.7 330.3 187 335.3 187.3 331.7 187.6 332.2 187.8 326.3 188.1 323.7 188.3 316.4 188.6 314.4 188.9 310.4 189.1 311.1 189.4 303.1 189.6 305.1 189.9 296.7 190.2 300.4 190.4 293.8 190.7 295.6 190.9 292.6 191.2 294.7 191.5 291 191.7 293.9 192 290.3 192.2 290.8 192.5 288 192.8 292.8 193.1 291.6 193.4 296.8 193.7 295.5 194 296.5 194.2 293.8 194.5 293.4 194.7 289.5 195 293.8 195.3 288.5 195.5 290.7 195.8 288 196 290.9 196.3 289.4 196.6 292 196.8 290.3 197.1 294.2 197.3 291.6 197.6 296.3 197.9 294.1 198.1 298.4 198.4 294.4 198.6 298.4 198.9 295.8 199.2 299.4 199.4 297.4 199.7 303.3 199.9 300 200.2 304.5 200.5 301.5 200.7 306 201 302.6 201.2 305.9 201.5 304.4 201.8 304.8 202 300.2 202.3 303.6 202.5 297.9 202.8 298.9 203.1 293.8 203.3 295.4 203.6 291.2 203.8 294.6 204.1 289.9 204.4 292.9 204.6 288 204.9 292 205.1 289.1 205.4 292.6 205.7 290.9 206 294.4 206.3 294.8 206.6 298.4 206.9 309.7 207.3 324.2 207.6 326.8 207.8 331.8 208.1 334.3 208.3 341.8 208.6 342.4 208.9 348.7 209.1 347.7 209.4 350.5 209.6 348.1 209.9 350.5 210.2 348.4 210.4 348.7 210.7 344.8 210.9 347.1 211.2 341 211.5 341.8 211.7 337.6 212 339.6 212.2 333.7 212.5 335.1 212.8 326.3 213.1 327.6 213.4 318.5 213.7 318.5 214 315.8 214.2 319.2 214.5 316.2 214.7 321.6 215 318.2 215.3 321.3 215.5 318.1 215.8 323.4 216 319.3 216.3 324.2 216.6 321.8 216.8 325.1 217.1 322 217.3 327.9 217.6 325.5 217.9 326.3 218.1 317.4 218.4 318.4 218.6 311.9 218.9 312.8 219.2 308.2 219.4 311.2 219.7 305.8 219.9 306.9 220.2 303.4 220.5 313.5 220.7 316.8 221 327 221.2 331 221.5 340.5 221.8 335.8 222 337.7 222.3 332.7 222.5 333.9 222.8 330 223.1 335.3 223.3 332.5 223.6 334.5 223.8 331.5 224.1 336.1 224.4 334 224.7 335.8 225 334.5 225.3 337.3 225.6 329.9 225.8 328.7 226.1 320.3 226.3 319.9 226.6 315 226.9 317.7 227.1 315.7 227.4 318.6 227.6 316.3 227.9 319.9 228.2 317.1 228.4 318.8 228.7 318.1 228.9 321.6 229.2 321.5 229.5 322.6 229.7 315.8 230 318.9 230.2 314.7 230.5 315.5 230.8 309.7 231.1 312.3 231.4 306.9 231.7 306.7 232 303.6 232.2 305 232.5 301.2 232.7 304.8 233 300.8 233.3 304.9 233.5 302.2 233.8 305.1 234 303.4 234.3 308.5 234.6 303.4 234.8 306.4 235.1 299.3 235.3 302.1 235.6 296.3 235.9 301.9 236.1 299.9 236.4 305.4 236.6 303.8 236.9 307.8 237.2 303 237.4 306.6 237.7 303.8 237.9 305.3 238.2 300.6 238.5 304.9 238.7 300.8 239 303.7 239.2 300.2 239.5 301.6 239.8 298.3 240 297.8 240.3 293 240.5 296.1 240.8 289.4 241.1 293 241.3 288.3 241.6 291.8 241.8 288 242.1 290.7 242.4 290.4 242.6 292.9 242.9 292.5 243.1 296.3 243.4 295.7 243.7 301 244 302.4 244.3 308.9 244.6 309.6 244.9 315 245.1 315.4 245.4 323.8 245.6 326.2 245.9 331.2 246.2 324 246.4 326.1 246.7 320.9 246.9 322.1 247.2 319.3 247.5 322.3 247.7 321.2 248 325.3 248.2 320.5 248.5 323.8 248.8 320.5 249 321 249.3 314.4 249.5 314.4 249.8 310.6 250.1 313 250.3 306.6 250.6 308.9 250.8 304.7 251.1 305.4 251.4 302.2 251.6 304.6 251.9 298.7 252.1 300.1 252.4 295.3 252.7 298.4 252.9 293 253.2 296.6 253.4 291.1 253.7 296.6 254 294.1 254.2 298.1 254.5 294.7 254.7 297.7 255 296.1 255.3 299.9 255.5 297.6 255.8 302.9 256 298.5 256.3 302.7 256.6 303.5 256.9 309.1 257.2 309.7 257.5 313.8 257.8 312.4 258 316.6 258.3 316.8 258.5 323.3 258.8 321.3 259.1 327.1 259.3 323.5 259.6 329.2 259.8 327.2 260.1 330.3 260.4 322.6 260.6 322.8 260.9 314.9 261.1 313.5 261.4 303.9 261.7 308.5 262 306.3 262.3 310.1 262.5 310.5 262.8 316 263 314.6 263.3 317.7 263.6 314.7 263.8 314.3 264.1 307.8 264.3 307.8 264.6 303.7 264.9 305 265.1 298.6 265.4 298.7 265.6 293.1 265.9 295.7 266.2 292.4 266.4 291.6 266.7 290.6 266.9 291.1 267.2 288 267.5 292.7 267.7 289.3 268 293.3 268.2 292.9 268.5 297 268.8 290.8 269.1 292.3 269.4 288 269.7 292.6 270 292.2 270.2 297.9 270.5 298.4 270.7 303.7 271 304.9 271.3 312.9 271.5 312.1 271.8 321.3 272 320.3 272.3 328 272.6 326.6 272.8 329.6 273.1 329.1 273.3 331.9 273.6 330.3 273.9 334.8 274.1 336 274.4 341 274.6 339.5 274.9 341.8 275.1 341 275.4 348.1 275.6 344.9 275.9 350.5 276.2 343 276.5 338.4 276.8 331.7 277.1 315.1 277.5 292.7 277.8 294.1 278 291.6 278.2 292.4 278.5 288.9 278.8 295.7 279 293.5 279.3 298.2 279.5 297.7 279.8 301.4 280.1 299.1 280.3 309 280.6 306.2 280.8 311.8 281.1 310.7 281.4 316.3 281.7 318.7 282 322.1 282.3 318.5 282.5 317 282.8 311.2 283 310.3 283.3 304.9 283.6 307.2 283.8 303.1 284.1 305.1 284.3 300 284.6 303.1 284.9 298.6 285.1 297.4 285.4 293.3 285.6 293.9 285.9 289.8 286.2 294.2 286.4 288.4 286.7 292.3 286.9 289.9 287.2 292.3 287.5 288.7 287.7 292.4 288 290 288.2 293.1 288.5 289.6 288.8 295.1 289.1 290.7 289.4 295 289.7 292" stroke="#1f77b4" stroke-width="0.85" fill="none" stroke-linejoin="round" opacity="1"/>
<path d="M54.6 294V330M59.5 290V313M66.9 298V345.5M99.1 300V348M105.5 289V345.5" stroke="#1f77b4" stroke-width="0.5" opacity="0.55"/>
<rect x="289.7" y="292" width="6.5" height="10.3" fill="#1f77b4"/>
<path d="M296 302.6H353.8" stroke="#1f77b4" stroke-width="0.7" opacity="0.7"/>
<path d="M35.3 329.6 35.6 334.9 35.8 330.8 36.1 335.6 36.3 333.9 36.6 337.8 36.9 333.6 37.1 333.2 37.4 328.4 37.6 329.5 37.9 322.9 38.2 325.8 38.4 321.1 38.7 323.3 38.9 317.9 39.2 321.1 39.5 320.8 39.7 323.1 40 324.5 40.2 329.7 40.5 325.4 40.8 329.9 41.1 329 41.4 334.1 41.7 331.2 42 334.8 42.2 329.6 42.5 328.6 42.7 325.5 43 327.2 43.3 325.1 43.5 329.2 43.8 330.2 44 334.6 44.3 331.9 44.6 335.7 44.8 332 45.1 336.7 45.3 332.4 45.6 333.9 45.9 334.6 46.1 338.1 46.4 337.4 46.6 342.7 46.9 342.4 47.2 344.4 47.4 344.6 47.7 349.8 47.9 344.7 48.2 349.5 48.5 348 48.7 350.5 49 345.8 49.2 348.1 49.5 345.4 49.8 348.3 50 346.3 50.3 350.5 50.5 348.4 50.8 350.5 51.1 348 51.3 349.2 51.6 347.3 51.9 349.2 52.2 345 52.4 348.8 52.7 345.7 53 345.6 53.2 340.4 53.5 342.9 53.8 337.4 54.1 337.9 54.3 333.3 54.6 335.5 54.9 329.9 55.1 329.2 55.4 324.7 55.6 323.5 55.9 317.2 56.2 320.6 56.4 314.3 56.7 317.6 56.9 309.3 57.2 312.9 57.5 309 57.7 313.1 58 312.7 58.2 318.1 58.5 316 58.8 317.8 59 312.9 59.3 316.5 59.5 312.8 59.8 314.1 60.1 307.9 60.3 310.1 60.6 307.3 60.8 308 61.1 304.3 61.4 313.6 61.7 318.4 62 328.2 62.4 329.3 62.7 341.5 63 343 63.3 347.8 63.5 344.7 63.8 349.8 64 345.4 64.3 350.5 64.5 349.4 64.8 350.5 65 347.4 65.3 350.5 65.5 348.9 65.8 350.2 66 347.6 66.3 348.1 66.6 343.5 66.9 342.8 67.2 336.6 67.5 336.5 67.8 332.7 68 334.8 68.3 330.4 68.5 333.1 68.8 330.1 69 332.1 69.3 328.8 69.5 329.4 69.8 327.3 70 327.8 70.3 322.8 70.5 325.9 70.8 320.6 71.1 327.4 71.3 323.4 71.6 330.9 71.8 329.2 72.1 333.4 72.4 331.3 72.7 336.9 73 333.2 73.3 339 73.6 318.1 73.9 304.2 74.2 298.1 74.4 302.4 74.7 298.8 74.9 301.6 75.2 298 75.5 303.2 75.7 302.4 76 305.9 76.2 303.6 76.5 306.5 76.8 306 77 311.4 77.3 307.4 77.5 311.8 77.8 311.4 78.1 314.4 78.3 312.9 78.6 317.7 78.8 313.1 79.1 316.7 79.4 309.5 79.6 310.3 79.9 305.4 80.1 304.1 80.4 299.3 80.7 301.9 80.9 298.4 81.2 299.8 81.4 297.1 81.7 301 82 299.8 82.2 303 82.5 300.1 82.7 305.4 83 302.4 83.3 304.1 83.5 300.8 83.8 304.4 84 300.4 84.3 303.2 84.6 301.1 84.9 305 85.2 302.4 85.5 306.7 85.8 303.9 86 306.4 86.3 302 86.5 305 86.8 300.4 87.1 305.6 87.3 304.8 87.6 310 87.8 308.5 88.1 316.5 88.4 311.7 88.6 312.8 88.9 307.4 89.1 311.3 89.4 308 89.7 310.5 89.9 305.8 90.2 312.5 90.4 310.6 90.7 312.5 91 310.6 91.2 313.8 91.5 312.7 91.7 316.9 92 316 92.3 320.9 92.6 320.7 92.9 333 93.3 338.1 93.6 342.9 93.8 340.2 94.1 344.4 94.3 341.7 94.6 346.4 94.9 343.3 95.1 347.8 95.4 345.8 95.6 350.5 95.9 346.5 96.2 350.5 96.4 345.6 96.7 347.5 96.9 346.1 97.2 346.7 97.5 343.2 97.7 345.5 98 342.1 98.2 342.6 98.5 339.5 98.8 344.5 99.1 344.2 99.4 348.9 99.7 346.8 100 350.2 100.2 344.3 100.5 346.4 100.7 343.4 101 343.6 101.3 341.2 101.5 344.4 101.8 341.4 102 344.9 102.3 344 102.6 344.3 102.8 340.2 103.1 340.4 103.3 336.3 103.6 337.1 103.9 331.4 104.1 335 104.4 328.1 104.6 332.3 104.9 325.6 105.2 329.1 105.4 325.3 105.7 328.1 105.9 325.9 106.2 328.5 106.5 323.7 106.7 330.4 107 326.6 107.2 331.4 107.5 329.5 107.8 336.7 108 333.1 108.3 339.4 108.5 337 108.8 343.7 109.1 337.9 109.3 339.3 109.6 335.3 109.8 337.6 110.1 335.6 110.4 338.2 110.7 335.6 111 340.5 111.3 339 111.6 341.7 111.8 339.8 112.1 344.4 112.3 343.4 112.6 346.2 112.9 343.3 113.1 345.7 113.4 341 113.6 342.6 113.9 337.8 114.2 343.3 114.4 340 114.7 343.5 114.9 343 115.2 346.6 115.5 340.1 115.7 341.4 116 336.3 116.2 340 116.5 332.9 116.8 337.9 117.1 336.3 117.4 337.6 117.7 335.4 118 338.7 118.2 337.8 118.5 339.4 118.7 337.7 119 340.1 119.3 336.9 119.5 338.7 119.8 333.3 120 337.4 120.3 331.8 120.6 337.8 120.8 335.8 121.1 343.1 121.3 340.7 121.6 347 121.9 344.5 122.1 346.1 122.4 346.5 122.6 350.4 122.9 345.9 123.2 344.2 123.4 331.6 123.7 329.9 123.9 319.3 124.2 312.7 124.5 300.9 124.8 294 125.1 289.4 125.3 294.8 125.6 289.4 125.8 291.2 126.1 288 126.4 292.2 126.6 290.1 126.9 292.3 127.1 290.9 127.4 295.6 127.7 290.2 127.9 294.7 128.2 290.9 128.4 294.7 128.7 289.7 129 295.6 129.2 293 129.5 299.5 129.7 295.4 130 302.2 130.3 304.5 130.5 313.6 130.8 316.2 131 327.6 131.3 330 131.6 334.2 131.8 333.2 132.1 339.1 132.3 335.6 132.6 339.9 132.9 335.9 133.1 335.4 133.4 330.8 133.6 332.7 133.9 326 134.2 327.9 134.4 323.2 134.7 326.9 134.9 321 135.2 323.6 135.5 323.1 135.7 329.3 136 326 136.2 333.2 136.5 330.8 136.8 324.1 137.1 310 137.4 301.9 137.7 288 138 292 138.2 289 138.5 291 138.7 288 139 290.1 139.3 288.2 139.5 292.8 139.8 292.1 140 295.7 140.3 292.9 140.6 294.9 140.8 295.4 141.1 299.2 141.3 295.8 141.6 299.9 141.9 294.2 142.1 297.8 142.4 293.5 142.6 295.3 142.9 289.7 143.2 301.4 143.4 305.5 143.7 313.2 143.9 316 144.2 326.8 144.5 322.4 144.7 324.6 145 322.6 145.2 324.1 145.5 320.4 145.8 327.6 146 326.9 146.3 335.9 146.5 335.4 146.8 343.1 147.1 341.5 147.3 346.3 147.6 344.3 147.8 348.9 148.1 345.8 148.4 344 148.7 337.8 149 335.1 149.3 324.2 149.6 312.8 149.9 294.7 150.2 295.9 150.4 292.4 150.7 293.7 150.9 290.5 151.2 293.5 151.5 290.9 151.7 297 152 295.6 152.2 299.8 152.5 299.7 152.8 300.8 153 296.8 153.3 296.4 153.5 291.2 153.8 292.3 154.1 291.6 154.3 293.4 154.6 289.4 154.8 291.9 155.1 288 155.4 293.2 155.6 290.4 155.9 294.3 156.1 292 156.4 295.8 156.7 293.6 156.9 294.7 157.2 291 157.4 294.7 157.7 291.1 158 296 158.2 292.2 158.5 298.4 158.7 296.4 159 301.3 159.3 301.1 159.5 306.2 159.8 305.8 160 313.4 160.3 312.7 160.6 317.6 160.9 315.5 161.2 321.3 161.5 317.8 161.8 317.6 162 312.4 162.3 312.7 162.5 308.7 162.8 309.2 163.1 306.9 163.3 309.8 163.6 308.2 163.8 313.2 164.1 312.7 164.4 318.5 164.6 317.4 164.9 325 165.1 324.6 165.4 330.9 165.7 327.3 165.9 329.8 166.2 326.4 166.4 326.6 166.7 324.3 167 326.8 167.2 324.2 167.5 331 167.7 328.7 168 331.2 168.3 326.6 168.5 329.4 168.8 323.4 169 326.6 169.3 319.9 169.6 326.2 169.8 323.9 170.1 328.7 170.3 327.8 170.6 332.3 170.9 328.9 171.1 330.3 171.4 324 171.6 325.8 171.9 322.4 172.2 322.7 172.4 319.5 172.7 319 172.9 316 173.2 315.8 173.5 309.7 173.7 311.5 174 306.5 174.2 308.5 174.5 303.2 174.8 308.9 175.1 301.3 175.4 303.2 175.7 299 176 306.2 176.2 306.6 176.5 314 176.7 315.4 177 321 177.3 319.1 177.5 325.4 177.8 323.9 178 327.4 178.3 326.4 178.6 325.1 178.8 319.2 179.1 319.4 179.3 315.1 179.6 314.1 179.9 306.7 180.1 310.3 180.4 302.8 180.6 306.1 180.9 301.2 181.2 305.6 181.4 304.9 181.7 310.9 181.9 308.3 182.2 313.1 182.5 315.3 182.7 318.7 183 319.7 183.2 326.6 183.5 323.6 183.8 329.2 184 328.7 184.3 332.9 184.5 332 184.8 335.3 185.1 330.9 185.3 334.1 185.6 330.1 185.8 331.2 186.1 327.4 186.4 330.1 186.6 323.9 186.9 325.5 187.1 321.6 187.4 324 187.7 319 188 322.3 188.3 320 188.6 320.7 188.9 320 189.1 327.7 189.4 328.9 189.6 336.7 189.9 338.4 190.2 340.9 190.4 338.7 190.7 345.8 190.9 343.5 191.2 347.2 191.5 341.5 191.7 341 192 335.7 192.2 337.4 192.5 329.1 192.8 332.9 193.1 328.1 193.4 331.8 193.7 327.7 194 330.4 194.2 328.6 194.5 333.6 194.7 331.6 195 337.9 195.3 333.3 195.5 334.7 195.8 331 196 332.8 196.3 326 196.6 325.3 196.8 320.7 197.1 319.7 197.3 313.7 197.6 314.2 197.9 310 198.1 308.4 198.4 305.8 198.6 307.2 198.9 302.3 199.2 303.4 199.4 298.1 199.7 300.2 199.9 293.4 200.2 295.2 200.5 293.8 200.7 298.2 201 295.5 201.2 298.2 201.5 296.8 201.8 301.3 202 299.1 202.3 304.9 202.5 302.6 202.8 308.4 203.1 306.6 203.3 310.2 203.6 310 203.8 315.8 204.1 313.3 204.4 319.3 204.6 318.7 204.9 320.7 205.1 320.8 205.4 325 205.7 323.9 206 328.7 206.3 326.5 206.6 330.8 206.9 329.2 207.1 334.2 207.4 332.1 207.6 337.1 207.9 335.7 208.2 337.4 208.4 336 208.7 340.9 208.9 338.9 209.2 342.8 209.5 336.1 209.7 340.9 210 335.9 210.2 338.2 210.5 333.9 210.8 337.1 211 338.2 211.3 342.8 211.5 341.8 211.8 348 212.1 344.4 212.3 347.8 212.6 346.9 212.8 348.3 213.1 347.1 213.4 347.5 213.6 340.5 213.9 342.2 214.1 337.3 214.4 339 214.7 335 214.9 339.5 215.2 337.3 215.4 341.6 215.7 336.1 216 342.7 216.2 342.8 216.5 346.3 216.7 345.8 217 349.9 217.3 342.6 217.5 342.1 217.8 336.4 218 337.6 218.3 331.5 218.6 327.2 218.9 317.8 219.2 314.5 219.5 305.3 219.8 304.2 220 299.1 220.3 300.2 220.5 292.2 220.8 292.1 221.1 290.4 221.3 296.3 221.6 293.7 221.8 294.9 222.1 293.3 222.4 299.3 222.6 297.7 222.9 301.2 223.1 298.9 223.4 303.8 223.7 299.1 223.9 304.8 224.2 300.5 224.4 306 224.7 302 225 303.7 225.3 302.3 225.6 302.8 225.8 296.4 226.1 298.6 226.3 291.4 226.6 291.6 226.9 288.9 227.1 294.2 227.4 290.8 227.6 294.8 227.9 289.5 228.2 296 228.4 294.2 228.7 302.6 228.9 300.8 229.2 307.3 229.5 303.7 229.7 308.4 230 308.3 230.2 312.4 230.5 312.4 230.8 316.3 231.1 317 231.4 322.5 231.7 322.7 232 329.9 232.2 328.6 232.5 335.2 232.7 338 233 343.9 233.3 337.4 233.5 341 233.8 334.5 234 335.7 234.3 333.3 234.6 332.8 234.8 327.4 235.1 326.8 235.3 322.9 235.6 323.8 235.9 319.9 236.1 321.6 236.4 313.5 236.6 314.8 236.9 306.9 237.2 312.1 237.4 305.5 237.7 308 237.9 305.1 238.2 304.9 238.5 308.3 238.7 318.6 239 321 239.2 330.4 239.5 333.7 239.8 335.9 240 331.1 240.3 335 240.5 330.4 240.8 334.1 241.1 330.4 241.3 330.5 241.6 324.9 241.8 326.3 242.1 323.5 242.4 324.8 242.6 319.5 242.9 323.2 243.1 318 243.4 318.9 243.7 314.9 244 316.5 244.3 312.1 244.6 313.9 244.9 307 245.1 311.7 245.4 307.9 245.6 309.4 245.9 305.8 246.2 306.5 246.4 303.8 246.7 303.3 246.9 300 247.2 302.3 247.5 296.5 247.7 298.4 248 294.3 248.2 296.6 248.5 290.2 248.8 293.5 249 289.4 249.3 291.6 249.5 289 249.8 293.6 250.1 289.1 250.3 291.7 250.6 289.3 250.8 293 251.1 290.7 251.4 292.4 251.6 290.1 251.9 293 252.1 290.7 252.4 291.6 252.7 288.8 252.9 292.9 253.2 292 253.4 294.2 253.7 290 254 293.2 254.2 289.4 254.5 293.4 254.7 288.8 255 292 255.3 288.8 255.5 293.2 255.8 289.2 256 292.3 256.3 290 256.6 294.1 256.9 293.1 257.2 298.7 257.5 299 257.8 305.1 258 305.6 258.3 311.5 258.5 311.6 258.8 318 259.1 315.3 259.3 319.8 259.6 316 259.8 320.8 260.1 319.2 260.4 319.8 260.6 317.2 260.9 317.9 261.1 313.6 261.4 315 261.7 314.7 261.9 319 262.2 317.4 262.4 322.8 262.7 322.5 263 327.9 263.3 324.4 263.6 324.2 263.8 316.8 264.1 313.7 264.3 303.8 264.6 301 264.9 297.5 265.1 300.6 265.4 295 265.6 295.9 265.9 292.9 266.2 295.6 266.4 294.3 266.7 298 266.9 295.4 267.2 298.5 267.5 298.4 267.7 304 268 303.3 268.2 310.7 268.5 309.4 268.8 313.7 269.1 313.9 269.4 319 269.7 318.9 270 320.3 270.2 313.7 270.5 312.6 270.7 308 271 307.6 271.3 309 271.5 311.7 271.8 311 272 315.3 272.3 314.4 272.6 318.2 272.8 319.1 273.1 323.8 273.3 321.9 273.6 327.8 273.9 326.7 274.1 331.1 274.4 331.2 274.6 336.7 274.9 333.3 275.2 336.4 275.4 333.3 275.7 336.7 275.9 334.5 276.2 338.6 276.5 329.6 276.7 329.5 277 322.7 277.2 321 277.5 313.9 277.8 312.1 278 305 278.3 306.2 278.5 297.3 278.8 295.6 279.1 292.8 279.3 293.2 279.6 291.8 279.8 293.7 280.1 290.2 280.4 293.9 280.6 292.7 280.9 297.2 281.1 295.3 281.4 301.1 281.7 298.5 282 304.4 282.3 303.7 282.6 308.6 282.9 307.9 283.1 310.1 283.4 308.5 283.6 314.2 283.9 312.4 284.2 314.7 284.4 308.5 284.7 309.6 284.9 307 285.2 307.2 285.5 303.3 285.7 304.7 286 301.6 286.2 301.9 286.5 297.8 286.8 302.9 287 299.8 287.3 304.8 287.5 304.3 287.8 307.3 288.1 309.7 288.3 314.9 288.6 315.8 288.8 324.1 289.1 324.4 289.4 333.5 289.6 340" stroke="#ff7f0e" stroke-width="0.85" fill="none" stroke-linejoin="round" opacity="1"/>
<path d="M289.6 340V350.6H353.8" stroke="#ff7f0e" stroke-width="0.7" fill="none" opacity="0.75"/>
<path d="M42.2 416.1V388.8H42.7V388.8H43.2V388.8H43.7V402.4H44.2V403.1H44.7V402.4H45.2V403.2H45.7V402.8H46.2V398.3H46.7V401.2H47.2V400.8H47.7V401.5H48.2V399.1H48.7V398.3H49.2V402.7H49.7V401H50.2V402.5H50.7V400.6H51.2V402.5H51.7V402.7H52.2V398.7H52.7V400.2H53.2V399.7H53.7V403.2H54.2V399.2H54.7V402.9H55.2V403.1H55.7V400H56.2V398.9H56.7V399.3H57.2V388.8H57.7V388.8H58.2V388.8H58.7V399.8H59.2V401H59.7V402.8H60.2V399.5H60.7V401.2H61.2V398.9H61.7V402H62.2V399.5H62.7V402.6H63.2V402.3H63.7V402.6H64.2V400.6H64.7V401.3H65.2V403.2H65.7V402.6H66.2V400.1H66.7V400.6H67.2V401.3H67.7V399.3H68.2V401.4H68.7V402.2H69.2V398.9H69.7V402.7H70.2V398.9H70.7V399H71.2V402.4H71.7V403.2H72.2V401.9H72.7V402.5H73.2V398.7H73.7V397.8H74.2V398.6H74.7V402.9H75.2V399.5H75.7V402.3H76.2V402.6H76.7V400.3H77.2V402.2H77.7V402.5H78.2V399.4H78.7V401.8H79.2V398.5H79.7V402.3H80.2V403.1H80.7V401.6H81.2V402.7H81.7V403.1H82.2V399.4H82.7V400.5H83.2V401.4H83.7V402.4H84.2V403.1H84.7V403.1H85.2V402.7H85.7V401.2H86.2V400.6H86.7V398.3H87.2V398H87.7V403H88.2V399.8H88.7V402.8H89.2V400.1H89.7V402.9H90.2V397.9H90.7V402.8H91.2V401.6H91.7V402.3H92.2V400.7H92.7V401.9H93.2V400.8H93.7V400.5H94.2V399.6H94.7V399.6H95.2V397.1H95.7V399.7H96.2V402.1H96.7V401.5H97.2V402.7H97.7V400.8H98.2V401.6H98.7V402H99.2V398.3H99.7V400.7H100.2V402.8H100.7V402.2H101.2V400.5H101.7V402.4H102.2V398.9H102.7V399.3H103.2V400.8H103.7V401.2H104.2V402H104.7V402.3H105.2V387.8H105.7V387.8H106.2V387.8H106.7V387.8H107.2V402.6H107.7V400.4H108.2V401H108.7V402H109.2V399H109.7V402.5H110.2V401.6H110.7V401.8H111.2V398.6H111.7V402.3H112.2V400.3H112.7V399.6H113.2V398.7H113.7V400.9H114.2V402.8H114.7V401.4H115.2V401.6H115.7V403H116.2V401.1H116.7V399.7H117.2V403.1H117.7V400H118.2V401.5H118.7V402.7H119.2V401.2H119.7V403.1H120.2V400.6H120.7V400.9H121.2V401.6H121.7V399.3H122.2V400.9H122.7V402.9H123.2V397.3H123.7V400.4H124.2V402.3H124.7V400.6H125.2V399H125.7V402.9H126.2V403.1H126.7V400.4H127.2V397.7H127.7V403.3H128.2V398.2H128.7V401.5H129.2V402.6H129.7V388.3H130.2V388.3H130.7V401H131.2V398.2H131.7V399.2H132.2V402.5H132.7V399.6H133.2V400.2H133.7V401.9H134.2V401.5H134.7V402.7H135.2V399.3H135.7V400.3H136.2V400.9H136.7V403.2H137.2V401.3H137.7V402.8H138.2V401.9H138.7V402.8H139.2V403H139.7V402.2H140.2V402.4H140.7V400.5H141.2V401.2H141.7V398.2H142.2V398.6H142.7V389.1H143.2V389.1H143.7V400.5H144.2V401.6H144.7V402.8H145.2V400.8H145.7V388.3H146.2V388.3H146.7V401H147.2V400.7H147.7V402.9H148.2V402.3H148.7V400.3H149.2V403.3H149.7V397.9H150.2V399.7H150.7V402.6H151.2V402.5H151.7V389.6H152.2V389.6H152.7V403.1H153.2V399.7H153.7V397.9H154.2V387.1H154.7V387.1H155.2V402.6H155.7V400.7H156.2V403H156.7V402.6H157.2V400.6H157.7V402.5H158.2V398.4H158.7V402.1H159.2V402.3H159.7V400.2H160.2V399.4H160.7V389.6H161.2V389.6H161.7V400.8H162.2V398.9H162.7V403.2H163.2V399.8H163.7V398H164.2V402.1H164.7V398.9H165.2V402.1H165.7V399.4H166.2V401.6H166.7V403.1H167.2V403.2H167.7V402.3H168.2V401.5H168.7V401.7H169.2V401.4H169.7V402.7H170.2V403.2H170.7V402.8H171.2V402H171.7V388.3H172.2V388.3H172.7V401.9H173.2V401.3H173.7V398.7H174.2V402.7H174.7V400.9H175.2V400.3H175.7V399.8H176.2V402.7H176.7V401.1H177.2V398.8H177.7V402.6H178.2V403.1H178.7V402.4H179.2V398.9H179.7V400.2H180.2V398.3H180.7V403H181.2V403.3H181.7V402.5H182.2V401.8H182.7V399.6H183.2V401.7H183.7V402.2H184.2V402.9H184.7V403.3H185.2V389.6H185.7V389.6H186.2V399.3H186.7V402.9H187.2V401.8H187.7V403H188.2V400.6H188.7V389.6H189.2V389.6H189.7V400.2H190.2V403.1H190.7V403H191.2V398.3H191.7V400.9H192.2V399.7H192.7V402.7H193.2V397.9H193.7V398.3H194.2V400.5H194.7V402.1H195.2V402.3H195.7V401.1H196.2V399.3H196.7V402.4H197.2V400.6H197.7V401.7H198.2V401.9H198.7V400H199.2V398.8H199.7V403.3H200.2V401.9H200.7V400.4H201.2V398.4H201.7V401.4H202.2V388.8H202.7V388.8H203.2V388.8H203.7V388.8H204.2V388.8H204.7V388.8H205.2V388.8H205.7V388.8H206.2V388.8H206.7V388.8H207.2V401.6H207.7V400.2H208.2V400H208.7V402.7H209.2V402.2H209.7V402.8H210.2V399.2H210.7V398H211.2V403.3H211.7V401.7H212.2V400.8H212.7V401.4H213.2V400H213.7V401.1H214.2V403.1H214.7V398.9H215.2V400.5H215.7V401.2H216.2V401H216.7V402.8H217.2V399.2H217.7V398.8H218.2V397.7H218.7V387.8H219.2V387.8H219.7V403.3H220.2V402.5H220.7V397.5H221.2V402.8H221.7V400.8H222.2V397.9H222.7V402.8H223.2V403H223.7V402.3H224.2V401.5H224.7V401.8H225.2V398.8H225.7V402.9H226.2V397.5H226.7V400.7H227.2V402.1H227.7V400.8H228.2V402.6H228.7V400.7H229.2V400.2H229.7V402.5H230.2V398.2H230.7V402.8H231.2V401.8H231.7V401H232.2V402.7H232.7V401.1H233.2V401.4H233.7V397.6H234.2V402.1H234.7V402.6H235.2V401.2H235.7V401.3H236.2V401.3H236.7V399.4H237.2V398.5H237.7V402.9H238.2V401.5H238.7V399.7H239.2V401.2H239.7V402.4H240.2V400.5H240.7V399.5H241.2V403.2H241.7V400.9H242.2V401.6H242.7V399.9H243.2V398.6H243.7V402H244.2V403H244.7V402.2H245.2V400.5H245.7V402.4H246.2V400.5H246.7V401H247.2V402.2H247.7V398.9H248.2V399.5H248.7V403H249.2V403.2H249.7V401.8H250.2V398.3H250.7V402.4H251.2V398.4H251.7V400.2H252.2V401.8H252.7V401.1H253.2V402.8H253.7V398.9H254.2V403.2H254.7V402.2H255.2V402.1H255.7V399.6H256.2V398.9H256.7V400.6H257.2V402H257.7V398H258.2V387.8H258.7V387.8H259.2V402.9H259.7V402.5H260.2V401.8H260.7V402.6H261.2V399.1H261.7V398.5H262.2V401.6H262.7V401.3H263.2V402H263.7V401H264.2V399.5H264.7V402.1H265.2V401.7H265.7V402H266.2V403.1H266.7V402.6H267.2V401.6H267.7V401.3H268.2V401.4H268.7V400.7H269.2V400.6H269.7V401.2H270.2V397.1H270.7V401.3H271.2V398.3H271.7V401.5H272.2V399.5H272.7V398.2H273.2V400.4H273.7V401.8H274.2V398.1H274.7V399.3H275.2V401.8H275.7V401.7H276.2V402.2H276.7V387.3H277.2V387.3H277.7V398.9H278.2V400H278.7V401.8H279.2V403H279.7V402.1H280.2V398.7H280.7V401.4H281.2V402.8H281.7V403.1H282.2V399.4H282.7V401.2H283.2V399.9H283.7V402.4H284.2V397.3H284.7V402.6H285.2V398.6H285.7V402.3H286.2V400.6H286.7V400.4H287.2V400.3H287.7V400.7H288.2V401.4H288.7V398.6H289.2V402.4H289.7V400.7H290.2V402.4H290.7V400H291.2V402.8H291.7V399.7H292.2V400.1H292.7V400.6H293.2V401.7H293.7V401H294.2V401.9H294.7V402.4H295.2V400.1H295.7V402.2H296.2V398.1H296.7V401.3H297.2V387.8H297.7V387.8H298.2V401.2H298.7V401.3H299.2V402.8H299.7V403.3H300.2V399.9H300.7V403.1H301.2V402.1H301.7V401.8H302.2V399H302.7V398.1H303.2V401H303.7V397.9H304.2V403H304.7V401.9H305.2V399H305.7V398.6H306.2V399.8H306.7V402.3H307.2V401.6H307.7V398.3H308.2V402.6H308.7V403.1H309.2V400.2H309.7V398.3H310.2V387.3H310.7V387.3H311.2V387.3H311.7V387.3H312.2V399.9H312.7V401.5H313.2V401.2H313.7V402H314.2V399.3H314.7V400.5H315.2V403H315.7V402.9H316.2V401.9H316.7V387.8H317.2V387.8H317.7V401.4H318.2V401.6H318.7V399.8H319.2V401.2H319.7V399.9H320.2V401.2H320.7V398.2H321.2V401.6H321.7V402.1H322.2V416.1Z" fill="#1f77b4"/>
<rect x="322" y="386.4" width="31.6" height="24.6" fill="#1f77b4"/>
<path d="M35.9 479.7 36.1 485.3 36.3 477.2 36.6 482.2 36.8 480.5 37 483 37.2 477.4 37.4 481.8 37.7 478.7 37.9 486.4 38.1 479.1 38.3 484.9 38.5 478.5 38.8 486 39 480.7 39.2 483.6 39.5 484.3 39.8 494.1 40 486.4 40.3 489.7 40.5 482 40.8 486.1 41 481 41.2 487.3 41.5 481.3 41.7 483.8 41.9 479.1 42.1 486.6 42.4 478.7 42.6 483.4 42.8 479.8 43 488.1 43.3 481.3 43.5 485.8 43.7 480 44 489.4 44.2 488.4 44.5 493.5 44.7 489.8 45 498.5 45.3 498.7 45.5 509.8 45.8 508 46 520.2 46.3 516.5 46.6 527.7 46.9 528.6 47.2 529.6 47.4 524.5 47.7 526 47.9 515.1 48.2 518.1 48.5 508.2 48.7 510.5 49 503.3 49.2 505.5 49.5 496.8 49.8 502.2 50 502.7 50.3 509.4 50.5 502 50.8 512.7 51 506.4 51.3 507.7 51.5 500.8 51.8 501.4 52 498.5 52.2 500.7 52.5 494.1 52.7 498.4 53 487.7 53.2 490 53.5 481.7 53.7 485.3 54 477.7 54.3 485.7 54.6 484.6 54.9 492.3 55.1 491.7 55.4 499.5 55.6 496.4 55.9 506.5 56.2 501.6 56.4 508.3 56.7 502.8 56.9 509.2 57.2 504.8 57.5 513.4 57.7 509.3 58 517.1 58.2 516 58.5 523.8 58.8 521.5 59 530 59.3 523.9 59.5 532.5 59.8 529.1 60.1 532.5 60.3 526.7 60.6 525.8 60.8 522 61.1 522.4 61.4 514.1 61.6 513.2 61.9 503.1 62.1 503.5 62.4 486.8 62.6 499.5 62.8 498.7 63.1 508.3 63.3 507.6 63.6 505.5 63.8 500 64.1 500.7 64.3 490.3 64.6 492 64.9 484.8 65.1 487.8 65.4 483.8 65.6 484.3 65.9 481 66.1 488.1 66.4 484.8 66.6 488.3 66.8 483.4 67.1 495 67.3 488.9 67.6 498.4 67.8 493.8 68.1 499.4 68.3 498.2 68.6 506.7 68.8 503.5 69.1 510.4 69.4 507.1 69.6 512.1 69.9 511.8 70.1 518 70.4 514 70.7 517.1 70.9 511.4 71.2 514.7 71.4 506.2 71.7 508.3 71.9 503.6 72.2 503.8 72.4 495.3 72.7 498.8 72.9 487.8 73.1 490 73.4 484.9 73.6 486.7 73.9 482.3 74.1 484.7 74.4 482.2 74.6 486.6 74.9 485.2 75.2 488.2 75.4 481.9 75.7 485.1 75.9 477.9 76.2 484.7 76.5 483.5 76.7 487.4 77 482.1 77.2 491.1 77.5 486.4 77.8 496.4 78 493 78.3 502.9 78.5 499.5 78.8 508.1 79.1 508.7 79.3 517.4 79.6 517.7 79.8 528.9 80.1 524.5 80.4 530.9 80.6 525.3 80.9 532 81.1 524.9 81.4 531.9 81.6 523.3 81.9 530.5 82.1 527.3 82.4 527.7 82.6 520.6 82.8 526.5 83 522.3 83.3 529.5 83.5 527 83.7 532.5 83.9 524.6 84.2 531.1 84.4 530.3 84.6 532.5 84.8 526.2 85.1 530.1 85.3 526.4 85.5 530.2 85.8 525 86 531.1 86.3 525.8 86.5 527.1 86.7 524.9 86.9 529.3 87.2 524.5 87.4 529.6 87.6 528.2 87.8 532.5 88.1 529.8 88.3 531.1 88.5 529.2 88.7 532.5 89 522.9 89.2 523.5 89.5 518.8 89.7 520.8 89.9 515 90.1 520 90.4 518.8 90.6 522.7 90.8 519.1 91 524.2 91.3 517.3 91.5 523.7 91.7 517.8 91.9 525.5 92.2 517.7 92.4 523.7 92.7 513.3 92.9 519.4 93.1 515.1 93.4 519.7 93.6 512.5 93.9 516.2 94.1 508 94.4 510.7 94.6 503 94.9 502.4 95.2 495.8 95.4 502.5 95.7 497 95.9 503.6 96.2 498.5 96.5 503.4 96.7 498.1 97 511.6 97.2 509.4 97.5 513.7 97.7 508.1 98 510.8 98.2 506.4 98.5 511.2 98.7 503 98.9 508.7 99.2 499.6 99.4 504.2 99.7 492.9 99.9 492.8 100.2 478.8 100.5 490 100.8 486.6 101 497 101.3 495.4 101.6 507.5 101.8 505.6 102.1 515.7 102.3 513.9 102.6 524.9 102.9 523.8 103.1 526.7 103.4 521.9 103.6 531.8 103.9 529.9 104.2 531.1 104.4 520.5 104.7 524.2 104.9 515.8 105.2 519.6 105.4 509.6 105.7 513.7 105.9 502.2 106.2 510.1 106.4 499.6 106.6 505.2 106.9 496.4 107.1 500.3 107.4 491.6 107.6 494 107.9 486.8 108.1 487.7 108.4 478.7 108.7 486.1 108.9 487.9 109.2 493.1 109.4 492.2 109.7 503.4 110 501.1 110.2 509.5 110.5 507 110.7 514.8 111 512.8 111.3 517.5 111.5 512.2 111.8 521.8 112 516.5 112.3 521.8 112.5 518.3 112.8 526.8 113 525.3 113.3 530.2 113.5 526.3 113.8 528.5 114 523.3 114.3 525.1 114.5 515.8 114.8 522.6 115.1 511.2 115.3 511.8 115.6 507.1 115.8 506.5 116.1 500.9 116.4 500.9 116.6 497.7 116.9 496.8 117.1 491 117.4 496.2 117.7 491.8 117.9 497.2 118.2 495.1 118.4 500.8 118.7 497.7 119 509 119.2 505.5 119.5 517.7 119.7 512.9 120 525.1 120.3 516.2 120.5 516.2 120.8 513.1 121 513.1 121.3 504.6 121.6 508.4 121.8 500.4 122.1 501.5 122.3 490.5 122.6 493.3 122.9 489.7 123.1 494.6 123.4 491.5 123.6 498.7 123.9 497.1 124.1 503.7 124.4 496.5 124.6 502 124.8 498.6 125.1 507.5 125.3 499.2 125.6 506.6 125.8 503 126.1 507.5 126.3 500.5 126.6 500.5 126.8 494.6 127.1 496.3 127.3 489.8 127.6 490.7 127.8 485.6 128.1 486.8 128.3 480.4 128.5 484.4 128.8 474.5 129 477.1 129.3 474 129.5 478.5 129.8 471.7 130 478 130.3 470 130.6 479.8 130.8 477.5 131.1 482.4 131.3 481.8 131.6 491.9 131.9 488.9 132.1 499.9 132.4 497.1 132.6 508.9 132.9 506.7 133.2 512.4 133.4 513.1 133.7 518.1 133.9 518.1 134.2 522 134.5 515.6 134.7 514.4 135 509 135.2 507.9 135.5 498 135.8 499.1 136 487.5 136.3 489.8 136.5 480.2 136.8 481 137.1 477 137.3 481 137.6 476.7 137.9 492.2 138.1 494.8 138.4 514.5 138.7 502.1 138.9 509.3 139.2 501.1 139.4 502.2 139.6 496.7 139.9 505.7 140.1 501.7 140.4 509.2 140.6 504.4 140.9 513.8 141.1 510 141.4 515.5 141.6 509 141.9 516.5 142.2 509.7 142.4 516.6 142.7 517.4 142.9 523.7 143.2 517.6 143.4 523.4 143.7 513.7 143.9 518.8 144.1 512.3 144.4 519.3 144.6 513.5 144.9 514.7 145.1 511.4 145.3 513.1 145.6 509.2 145.8 508.3 146.1 504 146.3 506.1 146.5 501.3 146.8 504.7 147 497.3 147.3 504.2 147.5 500.1 147.8 507.9 148 503.8 148.3 510.4 148.6 501.6 148.8 503.2 149.1 495.5 149.3 498.9 149.6 492.1 149.9 492.5 150.1 483.3 150.4 485.5 150.6 478.7 150.9 476.9 151.2 477.1 151.4 481.9 151.7 482.4 151.9 487.3 152.2 484.4 152.5 492.5 152.7 489 153 499 153.2 492.9 153.5 503.3 153.8 494 154 497 154.3 492 154.5 494.6 154.8 486.2 155.1 489 155.3 479.4 155.6 483.2 155.8 473.1 156.1 480.1 156.4 474.7 156.6 478.2 156.9 472.1 157.1 476.9 157.4 470 157.6 473.5 157.9 472.3 158.1 477.3 158.4 470 158.6 476.4 158.9 475.4 159.1 483.8 159.4 480.1 159.6 485.2 159.9 486.7 160.2 489.3 160.4 482.5 160.7 486.4 160.9 481.7 161.2 484.9 161.4 479.2 161.6 484.9 161.9 475.5 162.1 480.6 162.3 473.7 162.5 475.7 162.8 471.1 163 472.4 163.2 470 163.5 471.9 163.7 470 164 473.1 164.2 472.4 164.5 478.5 164.7 472.7 165 481.3 165.2 481.1 165.5 485.6 165.7 484.1 166 492 166.2 495.1 166.5 504.7 166.7 500.2 167 511.6 167.3 504.9 167.5 512.3 167.8 514.4 168 521.5 168.3 515.8 168.6 523.8 168.8 516.4 169.1 523.6 169.3 519.3 169.6 527.3 169.9 519.9 170.1 530.3 170.4 524.2 170.6 530.3 170.9 525.4 171.2 531.2 171.4 525.9 171.7 525 171.9 520.4 172.2 522.2 172.5 515.6 172.7 518.5 173 510.1 173.2 514.4 173.5 505.7 173.8 506.3 174 497.4 174.3 503.1 174.5 495.3 174.8 500 175.1 488.9 175.3 494.4 175.6 486.7 175.8 490.8 176.1 483.1 176.3 490.9 176.6 486.5 176.8 497 177.1 493.6 177.3 499.9 177.6 493.9 177.8 500.3 178.1 489.9 178.3 490.4 178.6 485.1 178.9 487.8 179.1 482.8 179.4 481.8 179.6 475.3 179.9 478.6 180.1 470.1 180.4 477.9 180.6 472.8 180.9 473.7 181.1 471.5 181.3 475.1 181.6 470 181.8 476.6 182 470 182.3 475.6 182.5 470 182.8 477 183 473.2 183.2 478.6 183.5 471.3 183.7 477.5 183.9 472.4 184.1 479.6 184.4 474.1 184.6 476 184.8 470 185 477.9 185.3 470 185.5 476.5 185.7 470 185.9 474.7 186.2 470.2 186.4 479.6 186.6 475.8 186.9 479.5 187.1 477.9 187.4 483.8 187.6 478.5 187.9 486 188.1 484.1 188.4 492 188.6 491.2 188.9 494.4 189.2 488.5 189.4 492.3 189.7 490 189.9 493.9 190.2 484.7 190.5 495.2 190.7 491.8 191 498.3 191.2 492.2 191.5 500.5 191.7 492.8 192 498 192.2 494.9 192.4 499.4 192.7 494.1 192.9 496.1 193.2 491.5 193.4 493 193.7 489.5 193.9 496.9 194.2 495.8 194.4 503.1 194.7 498.2 195 504.2 195.2 499.3 195.5 508.5 195.7 506.3 196 513.4 196.3 503.4 196.5 505.3 196.8 495.7 197 495.5 197.3 487.5 197.6 485.8 197.8 477.9 198.1 483.6 198.3 474.1 198.6 474.2 198.9 470 199.1 475.7 199.4 470 199.6 480.7 199.9 473 200.2 484.2 200.4 481.5 200.7 492.6 200.9 492.1 201.2 502.8 201.5 499.3 201.7 509.5 202 507.5 202.2 514.9 202.5 512 202.7 518.3 203 511.2 203.2 517.7 203.5 512.1 203.7 515.1 204 505 204.2 505.5 204.5 500 204.7 501 205 494.4 205.3 494.6 205.5 488.2 205.8 491.8 206 479.9 206.3 483.4 206.6 480.4 206.8 489.3 207.1 483.6 207.3 490.8 207.6 488 207.9 497 208.1 496.4 208.4 502.8 208.6 500.3 208.9 510 209.2 503.2 209.4 504.9 209.7 500.8 209.9 504.8 210.2 496.8 210.4 501.2 210.7 499.8 210.9 501.3 211.1 497.2 211.4 501.8 211.6 495 211.9 502.4 212.1 494.7 212.3 498.5 212.5 493.3 212.8 495.5 213 493 213.2 496.1 213.4 490.8 213.7 497.9 213.9 492.2 214.1 493.9 214.3 493.1 214.6 500.4 214.8 501.9 215.1 507.5 215.3 506.3 215.6 511.2 215.8 509 216.1 518.9 216.3 511.3 216.6 522.5 216.9 510.8 217.1 512.7 217.4 507.3 217.6 507.9 217.9 497.4 218.2 506.8 218.4 500.4 218.7 508.2 218.9 503.1 219.2 512.1 219.5 502.2 219.7 506.9 220 500.3 220.2 502.9 220.5 499 220.7 506.7 221 503.2 221.2 507.4 221.5 503.5 221.7 514.2 222 504.5 222.2 507.9 222.5 502 222.7 504.9 223 499.9 223.3 503.8 223.5 501.2 223.8 509.2 224 501.8 224.3 508.5 224.6 502.4 224.8 504.7 225.1 497 225.3 498.8 225.6 491 225.9 497.3 226.1 491.8 226.4 501.2 226.6 495.8 226.9 500.2 227.2 496.8 227.4 506.6 227.7 506.4 227.9 512.5 228.2 510.8 228.5 523.7 228.8 526.5 229.1 529.5 229.3 520.2 229.6 525.1 229.8 514.9 230.1 516.9 230.4 509.6 230.6 512.6 230.9 504.8 231.1 506.6 231.4 498.1 231.7 505.4 231.9 499.8 232.2 506.8 232.4 504 232.7 508.8 233 503.3 233.2 509.4 233.5 499.3 233.7 505.9 234 496.3 234.3 503.7 234.5 495.8 234.8 504.8 235 499.8 235.3 505.9 235.6 502.3 235.8 508.1 236.1 507.8 236.3 513.4 236.6 511.3 236.9 517.9 237.1 518.4 237.4 524.8 237.6 521.7 237.9 529.2 238.2 523.3 238.4 525.2 238.7 514.5 238.9 515.7 239.2 504.2 239.5 505.5 239.7 497.5 240 499.5 240.2 492.3 240.5 494.3 240.7 485.7 241 487.6 241.2 483.8 241.5 488 241.7 479.8 242 490.2 242.2 487 242.5 494.3 242.7 487.3 243 495.5 243.3 492.8 243.5 498.6 243.8 493.6 244 501.4 244.3 494.8 244.6 500.7 244.8 491.9 245.1 496 245.3 488.2 245.6 490.3 245.9 487.7 246.1 494.4 246.4 495.5 246.6 501.3 246.9 499.2 247.2 500.8 247.4 493.7 247.7 496 247.9 489.1 248.2 492.6 248.5 484.2 248.7 487.7 249 480.9 249.2 486.7 249.5 476.4 249.8 483.7 250 480.2 250.3 484.9 250.5 484.3 250.8 492.8 251.1 488.1 251.3 495 251.6 493.8 251.8 502.1 252.1 498.2 252.3 509.1 252.6 506.1 252.8 512.4 253.1 511.6 253.3 520.4 253.6 513.1 253.8 518.5 254.1 510.8 254.3 514.1 254.6 507.4 254.9 511.3 255.1 500.7 255.4 505.1 255.6 499.5 255.9 502.8 256.2 496.8 256.4 499.9 256.7 490.7 256.9 496 257.2 485.2 257.5 492.6 257.7 492.6 258 498.4 258.2 496.2 258.5 503.4 258.7 501.8 259 510.6 259.2 507 259.5 514.5 259.7 512.1 260 517.2 260.2 512.9 260.5 523 260.7 518.1 261 522.3 261.3 517.7 261.5 519.9 261.8 510.7 262 513.2 262.3 503.6 262.6 507.1 262.8 499.6 263.1 504 263.3 495.7 263.6 498.8 263.9 491.1 264.1 491.8 264.4 483.6 264.6 485.9 264.9 479.7 265.2 485.5 265.4 473.2 265.7 477.5 265.9 471.1 266.2 475.2 266.5 470 266.7 479 267 475.5 267.2 482.9 267.5 476.5 267.8 485.7 268 487.2 268.3 495.1 268.5 497.1 268.8 506.7 269.1 503.2 269.3 509.5 269.6 508.3 269.8 516 270.1 513.2 270.4 517.3 270.6 515.2 270.9 525.2 271.1 517.6 271.4 529.4 271.6 521.5 271.9 530.9 272.1 524.2 272.4 531.9 272.6 524.8 272.9 528 273.1 521.4 273.4 521.2 273.6 511.8 273.9 514.3 274.2 500.6 274.4 503.6 274.7 489.7 274.9 490.4 275.2 477 275.5 488 275.7 484.5 276 491.3 276.2 489.3 276.5 498.8 276.8 496.6 277 502 277.3 500 277.5 506.7 277.8 506.5 278.1 507.7 278.3 499.1 278.6 501.1 278.8 490.3 279.1 486.2 279.4 483.1 279.6 485.9 279.9 475.6 280.1 481.6 280.4 473.1 280.7 478.9 280.9 470.1 281.2 475.3 281.4 470.2 281.7 475.7 282 470.9 282.2 477.9 282.5 477.2 282.7 482.1 283 482.7 283.3 490.4 283.5 486.3 283.8 495.9 284 497 284.3 503.7 284.5 500.7 284.8 511.5 285 505.6 285.3 516.2 285.5 510.7 285.8 511.2 286 500.1 286.3 500 286.5 492.1 286.8 492.1 287.1 486.4 287.3 489.2 287.6 480.6 287.8 489.1 288.1 480.1 288.4 483.3 288.6 476.5 288.9 477.5 289.1 470.9 289.4 474 289.6 481.1 289.9 494.9 290.1 498.5 290.3 513.6 290.6 512.2 290.8 520.1 291.1 521.8 291.3 528.8 291.6 516.5 291.8 509.6 292.1 497.2 292.3 495.1 292.6 480.5 292.9 487.8 293.1 488 293.4 495.3 293.6 497.6 293.9 506.4 294.2 500.8 294.4 508.2 294.7 504.1 294.9 509.5 295.2 507.7 295.5 509.5 295.7 502.5 296 504.7 296.2 501.4 296.5 502.1 296.7 494.3 297 496.6 297.2 491.3 297.5 493.5 297.7 487.2 298 493.7 298.2 487.8 298.5 493 298.7 490.8 299 496.1 299.3 493.3 299.5 500.3 299.8 496.1 300 502.6 300.3 500.1 300.6 504.2 300.8 502.3 301.1 505.7 301.3 500.8 301.6 510.8 301.9 504 302.1 511.4 302.4 508.9 302.6 514.9 302.9 510.4 303.2 517 303.4 515.7 303.7 522.8 303.9 518.3 304.2 522.8 304.5 511.9 304.7 510 305 498.1 305.2 498.6 305.5 487.3 305.8 486 306 478.8 306.3 479.1 306.5 474.7 306.8 475.9 307.1 470 307.3 476.1 307.6 471.7 307.8 474.3 308.1 470 308.4 476.1 308.6 474 308.9 479.8 309.1 476 309.4 485.6 309.6 481.7 309.9 485.7 310.1 481 310.4 490.4 310.6 487.9 310.9 491.4 311.1 482.9 311.4 485.9 311.6 481 311.9 483.6 312.2 481.4 312.4 490.4 312.7 485.7 312.9 492.6 313.2 493.6 313.5 498.3 313.7 496.7 314 500.5 314.2 496.2 314.5 503.3 314.8 496.8 315 500.9 315.3 490.8 315.5 496.2 315.8 487.8 316.1 495.7 316.3 489.9 316.6 496.9 316.8 495.5 317.1 501.6 317.4 496 317.6 504.3 317.9 499 318.1 505 318.4 505.1 318.7 505.5 318.9 501.2 319.2 507.5 319.4 499.8 319.7 503.1 320 501.3 320.2 512.6 320.5 506.7 320.7 515.3 321 513.7 321.4 485.6" stroke="#1f77b4" stroke-width="1.1" fill="none" stroke-linejoin="round" opacity="1"/>
<rect x="321.3" y="479.8" width="32" height="6.1" fill="#1f77b4"/>
<path d="M35.9 527.9 36.1 530.9 36.3 525.8 36.6 528.1 36.8 524.4 37 529.8 37.2 519.9 37.5 526.3 37.7 518.3 37.9 523.4 38.2 516 38.4 516.3 38.7 507.1 38.9 506.3 39.2 497.5 39.4 501.7 39.7 495.6 39.9 499.2 40.2 491.1 40.4 496.4 40.6 488.2 40.9 489 41.1 482.2 41.3 487.9 41.6 481.9 41.8 486 42 479.3 42.3 483.3 42.5 477.8 42.8 484.9 43 479.7 43.3 486.1 43.5 482 43.8 487.1 44 483 44.3 490.4 44.6 486.9 44.8 490.8 45.1 485.6 45.3 488.3 45.6 480.2 45.9 489.2 46.1 482.7 46.4 492 46.6 487.7 46.9 493.8 47.2 491.3 47.4 500.9 47.7 498.9 47.9 509.5 48.2 507.8 48.5 512.7 48.7 511.3 49 516.2 49.2 513.7 49.5 519.9 49.7 514.8 50 524.7 50.2 518.4 50.5 527.5 50.7 521.9 50.9 530.6 51.2 524 51.4 531.9 51.7 526.3 51.9 530.2 52.2 524.1 52.4 526.9 52.7 516.7 53 520.1 53.2 514 53.5 519.8 53.7 513.1 54 513.3 54.3 508.2 54.5 518.9 54.8 511 55 518.7 55.3 513.6 55.6 515.5 55.8 507.3 56.1 509.3 56.3 499.8 56.6 504 56.9 498.9 57.1 498.2 57.4 491.7 57.6 497.3 57.9 489 58.2 496.4 58.4 493.1 58.7 500.5 58.9 495 59.2 501.6 59.5 492.7 59.7 496.2 60 487.8 60.2 493.2 60.5 484.7 60.7 487.9 61 482 61.2 487.7 61.5 481.7 61.7 482.1 62 483 62.2 489.3 62.5 485.9 62.7 493.8 63 494.9 63.2 498.5 63.4 497.8 63.7 506.6 63.9 503.8 64.2 502.7 64.4 497.8 64.7 503.1 64.9 495.4 65.2 496.1 65.5 486.6 65.7 488.8 66 484.7 66.2 485.6 66.5 479.5 66.7 485.6 66.9 478.5 67.2 487.5 67.4 480.2 67.6 487.9 67.8 485 68.1 489.1 68.3 487.4 68.5 493.3 68.7 485.9 69 493.1 69.2 492.6 69.5 496.7 69.7 495.8 69.9 501.7 70.2 495.1 70.4 502.2 70.7 500.8 70.9 504.9 71.2 501.7 71.4 509.8 71.7 507.6 72 509 72.2 498.8 72.5 503.2 72.7 491.1 73 494.2 73.3 494.1 73.5 499.3 73.8 496.5 74 503.7 74.3 497.9 74.5 500.1 74.8 496.3 75 500.4 75.2 495.4 75.5 499.3 75.7 491.9 76 497.5 76.2 495.3 76.4 500.9 76.7 497.6 76.9 505.4 77.2 498.9 77.4 508 77.6 503.4 77.9 511 78.1 505.2 78.3 511 78.5 506.1 78.8 506.4 79 501.7 79.2 509.7 79.4 504.1 79.7 506.1 79.9 497.9 80.1 504 80.4 498.9 80.6 502.7 80.9 498.4 81.1 503.9 81.4 497.9 81.6 500 81.9 497.5 82.1 500.4 82.3 496.6 82.6 500.6 82.8 493.8 83.1 498.5 83.3 492.3 83.5 497.4 83.8 489.5 84 494.6 84.2 488 84.5 493.5 84.7 487.4 85 490.2 85.2 487.4 85.4 492.1 85.6 486.4 85.9 492.4 86.1 485.5 86.3 489.1 86.5 483.4 86.8 487.8 87 481.8 87.2 487.5 87.5 479.4 87.7 482.5 88 476.5 88.2 481.5 88.5 474.9 88.7 484.1 89 478 89.2 488.5 89.5 479.9 89.7 490.3 89.9 481.8 90.2 492.2 90.4 488.1 90.6 489.8 90.9 483.1 91.1 490.5 91.3 484.3 91.6 490.3 91.8 482.9 92.1 488.9 92.3 479 92.6 484.4 92.8 480.8 93.1 486.1 93.3 481.2 93.6 484.1 93.9 479.5 94.1 482.4 94.4 481.2 94.6 485.5 94.9 483.8 95.2 490 95.4 485.9 95.7 493.9 95.9 493.1 96.2 498.1 96.5 495.6 96.7 504 97 500 97.2 509.8 97.5 507.9 97.8 511.1 98 510.4 98.3 519.4 98.5 514.6 98.8 525.2 99.1 522.6 99.3 529.3 99.6 522.5 99.8 529.5 100.1 528.9 100.3 530 100.6 521 100.8 527.3 101.1 517.4 101.3 520.9 101.6 513.4 101.8 513.1 102.1 508.1 102.3 508.7 102.6 501.3 102.8 504.5 103.1 496.4 103.3 497.6 103.5 492.6 103.8 493.7 104 484.9 104.3 488.3 104.5 482 104.8 487.3 105 482.3 105.3 490.8 105.5 484.6 105.8 491.2 106.1 488.2 106.3 494.7 106.6 492.9 106.8 501.3 107.1 501.2 107.4 505.5 107.6 502.4 107.9 510 108.1 505.5 108.4 510.9 108.7 504 108.9 506.9 109.2 498.3 109.4 505 109.7 495.1 110 501 110.2 489.5 110.5 495.3 110.7 489.7 111 492.2 111.3 487.6 111.5 494.7 111.8 492.9 112 498.6 112.3 496.4 112.5 503 112.8 497.1 113 505.1 113.3 500.8 113.5 508.3 113.7 499.3 113.9 503.7 114.2 493.3 114.4 497.8 114.6 491.1 114.8 494 115.1 483.1 115.3 485.7 115.5 480.2 115.8 484.1 116 479.9 116.3 481.1 116.5 478.6 116.8 482.9 117 476.2 117.3 482.5 117.5 478 117.8 486.7 118 479.4 118.2 485.5 118.5 481.8 118.7 486.6 118.9 485.3 119.2 490.1 119.4 490.8 119.7 495.4 119.9 492.7 120.1 502.1 120.4 500 120.6 504 120.8 500.7 121 508.2 121.3 502.4 121.5 509.3 121.7 507 121.9 515.2 122.2 506.7 122.4 514.2 122.6 512.4 122.8 519 123.1 515.3 123.3 520.9 123.5 518.3 123.8 525.3 124 520.4 124.3 529.5 124.5 523.7 124.8 529.2 125 527.9 125.3 530.9 125.5 529.3 125.8 532.5 126.1 524.5 126.3 529.6 126.6 519.8 126.8 521.2 127.1 512.4 127.4 513.2 127.6 503.5 127.9 505 128.1 497.3 128.4 497.7 128.7 487.5 128.9 490.2 129.2 483 129.4 482.7 129.7 476.7 130 478.6 130.2 475.3 130.5 479.9 130.7 470.7 131 474.4 131.3 471.5 131.5 478.6 131.8 471.7 132 480.7 132.3 478.3 132.5 481.5 132.8 471.9 133 477.6 133.3 471.3 133.5 477.1 133.8 470.9 134 480.1 134.3 475.6 134.5 480.9 134.8 479.4 135.1 490.7 135.3 486.7 135.6 496.3 135.8 493.2 136.1 505.7 136.4 502.5 136.6 507.8 136.9 505.6 137.1 511.5 137.4 509 137.7 520.1 137.9 517.7 138.2 522.3 138.4 521.9 138.7 532 138.9 529.2 139.2 531.1 139.4 529.4 139.7 525.9 139.9 511.8 140.2 516.4 140.4 508.3 140.7 513.2 140.9 506.5 141.2 512.7 141.5 507.8 141.7 513.4 142 512.5 142.2 517 142.5 513.3 142.8 518.7 143 513.3 143.3 512.9 143.5 505.1 143.8 509.7 144.1 506.5 144.3 515 144.6 512 144.8 519.5 145.1 517.8 145.3 522.6 145.6 519.3 145.8 528.3 146.1 525.7 146.3 528.1 146.5 526.3 146.8 529.7 147 528.2 147.3 528.6 147.5 519.4 147.8 524.3 148 513.1 148.3 515.3 148.6 510.9 148.8 509.8 149.1 502.8 149.3 507.8 149.6 497.8 149.8 504.1 150.1 493.3 150.3 500.7 150.6 494.4 150.8 498.5 151 488.6 151.3 493.2 151.5 484.8 151.8 489.5 152 481.6 152.3 485.1 152.5 480.3 152.8 478.7 153.1 475.5 153.3 480.8 153.6 473.4 153.8 478 154.1 472 154.4 476.3 154.6 474.2 154.9 479.5 155.1 472.5 155.4 481.1 155.7 479.2 155.9 490.8 156.2 489.2 156.4 499.8 156.7 499 157 506.4 157.2 506.4 157.5 513.5 157.7 510 158 517.4 158.3 509.5 158.5 516.7 158.8 506 159 510.3 159.3 505 159.6 511.9 159.8 507.3 160.1 513.2 160.3 509.3 160.6 516.1 160.9 512.4 161.1 514.9 161.4 506.2 161.6 511.4 161.9 505 162.2 509 162.4 507.5 162.7 512 162.9 511.8 163.2 516.9 163.5 512.4 163.7 517.5 164 515.9 164.2 520.1 164.5 518.3 164.7 526.6 165 519.2 165.2 524.9 165.4 523.1 165.7 529.3 165.9 524.2 166.2 532.5 166.4 529.8 166.7 531 166.9 519.3 167.2 523.2 167.4 516.7 167.7 516.5 168 506.1 168.2 502.2 168.5 488 168.7 486 169 471.6 169.3 476.8 169.5 470.1 169.8 476.4 170 470 170.3 471.7 170.5 472.3 170.8 476.3 171 472.3 171.3 480.4 171.5 481.3 171.8 484.8 172 478.1 172.3 488.5 172.5 486.4 172.8 488.3 173.1 485 173.3 494.3 173.6 490.8 173.8 496.6 174.1 493.2 174.4 493.9 174.6 484.8 174.9 483.5 175.1 479.5 175.4 479.3 175.7 483.7 175.9 499.7 176.2 504 176.4 512.8 176.6 513.4 176.9 522.7 177.1 521.4 177.3 528.7 177.6 518.1 177.8 521.5 178.1 509.2 178.3 512.9 178.6 507.8 178.8 510.7 179.1 502.8 179.3 504.6 179.6 496 179.8 502.4 180 492.9 180.3 496.7 180.5 491.1 180.8 496.4 181 494.2 181.3 505.3 181.5 502.9 181.8 509.9 182.1 506.8 182.3 511.6 182.6 511.7 182.8 517.1 183.1 517.3 183.4 524.1 183.6 517.6 183.9 527.9 184.1 524.2 184.4 530.2 184.7 522.5 184.9 524.7 185.2 516.3 185.4 520.5 185.7 512.9 186 512.8 186.2 506 186.5 504.8 186.7 496.5 187 499.6 187.3 488.3 187.5 489.9 187.8 479.2 188 483.5 188.3 474.5 188.5 479.6 188.8 472.4 189 475.9 189.3 470 189.5 473.1 189.8 470 190 479.2 190.3 475.1 190.5 481.2 190.8 475.6 191.1 482.5 191.3 481.9 191.6 488.9 191.8 486.2 192.1 490.5 192.4 486.9 192.6 494.7 192.9 490.1 193.1 502.5 193.4 496.7 193.7 503.6 193.9 499.9 194.2 507.4 194.4 504.3 194.7 508.8 195 505.7 195.2 515 195.5 509.4 195.7 516.6 196 509.9 196.3 519.5 196.5 513.9 196.8 518.5 197 518.9 197.3 522.1 197.5 522.5 197.8 527.8 198 522.2 198.2 527.6 198.5 524.3 198.7 532.3 199 524.7 199.2 532.5 199.4 527.1 199.6 532.5 199.9 527.3 200.1 530.5 200.3 528.1 200.5 531.7 200.8 527 201 531.8 201.2 526.5 201.4 530.5 201.7 523.8 201.9 532 202.1 525.8 202.4 531.6 202.6 526.6 202.9 532.5 203.1 527.3 203.4 532.5 203.6 526.5 203.9 527.9 204.1 522 204.4 524.5 204.7 515.3 204.9 521 205.2 514.1 205.4 517.2 205.7 511.1 206 511.7 206.2 503.5 206.5 501.8 206.7 492.6 207 491.5 207.3 486.8 207.5 487.8 207.8 485 208 488.3 208.3 478.5 208.5 486.3 208.8 482.4 209 493.2 209.3 490 209.5 496.1 209.8 483.7 210 487.1 210.3 478.2 210.5 477.2 210.8 470 211.1 479 211.3 478.5 211.6 491 211.8 487.9 212.1 499.3 212.4 493.3 212.6 502.3 212.9 496 213.1 504.1 213.4 502.4 213.7 507.6 213.9 500.1 214.2 504.1 214.4 497.2 214.6 508.7 214.9 505.1 215.1 514.2 215.3 512.5 215.6 519.6 215.8 516.1 216.1 524.1 216.3 520.9 216.6 531.8 216.9 524.6 217.1 525.5 217.4 517.3 217.6 521.4 217.9 509.7 218.2 517.3 218.4 511.3 218.7 517.3 218.9 513.4 219.2 521.7 219.5 511 219.7 508.9 220 502.6 220.2 501.4 220.5 494 220.7 494.2 221 487.4 221.2 488.9 221.5 484.2 221.7 486.2 222 480.4 222.2 486.4 222.5 484 222.7 489.7 223 488 223.3 487.8 223.5 479.2 223.8 483.5 224 471.1 224.3 475.2 224.6 470 224.8 476.8 225.1 472.7 225.3 477.1 225.6 474 225.9 482.8 226.1 483.6 226.4 493.7 226.6 494.2 226.9 505.8 227.2 503.6 227.4 510.7 227.7 507.6 227.9 515.7 228.2 509.1 228.5 514.6 228.7 510.1 229 510.5 229.2 503.8 229.5 511.3 229.8 499.6 230 503.9 230.3 495.2 230.5 499.3 230.8 493.7 231.1 494.2 231.3 486.4 231.6 489.6 231.8 484.2 232.1 484.5 232.4 477.5 232.6 480.1 232.9 472.3 233.1 477.4 233.4 470 233.6 477 233.9 470 234.1 477.6 234.4 470.9 234.6 477.7 234.9 470.7 235.1 474.8 235.4 470.6 235.6 473.9 235.9 471.2 236.2 477.8 236.4 472.1 236.7 480.9 236.9 474.2 237.2 484.2 237.5 481.9 237.7 489.8 238 484.2 238.2 494.3 238.5 490.7 238.8 497 239 491 239.3 498.7 239.5 495.2 239.8 502.1 240.1 497.5 240.3 498.5 240.6 493.6 240.8 500.2 241.1 491.8 241.4 500.1 241.6 496.6 241.9 504.2 242.1 498.8 242.4 504 242.7 500.9 242.9 513 243.2 506.8 243.4 516.7 243.7 511.1 244 514.9 244.2 502.9 244.5 505.8 244.7 498.4 245 498.9 245.3 497.2 245.5 500.7 245.8 499.1 246 506.6 246.3 500.6 246.5 511.4 246.8 506 247 514.9 247.3 510.7 247.5 521.2 247.8 517.1 248 524.6 248.3 518.9 248.5 527.2 248.8 522 249.1 524.5 249.3 515 249.6 515.5 249.8 507.8 250.1 507.1 250.4 497.6 250.6 497.6 250.9 490.7 251.1 496.4 251.4 485.2 251.7 487.1 251.9 481.5 252.2 481.2 252.4 470.9 252.6 483.7 252.9 481 253.1 488.4 253.3 487.2 253.6 497.9 253.8 496.6 254.1 503.6 254.3 503.3 254.6 512.6 254.9 510.2 255.1 516 255.4 514.4 255.6 526.1 255.9 520.8 256.2 529 256.4 523.7 256.7 528.8 256.9 524.5 257.2 530.8 257.5 524.1 257.7 527.7 258 521.3 258.2 526.1 258.5 520.4 258.7 522.6 259 515.1 259.2 518.9 259.5 512.3 259.7 513.4 260 506.6 260.2 510.9 260.5 502.5 260.7 499.7 261 492.7 261.3 495 261.5 489.1 261.8 488.2 262 476.9 262.3 481.1 262.6 475.9 262.8 476.1 263.1 472.3 263.3 476.7 263.6 470 263.9 472.6 264.1 473.1 264.4 474.7 264.6 471.5 264.9 480.5 265.2 476.5 265.4 481.6 265.7 477.2 265.9 481.2 266.2 477.4 266.5 483.8 266.7 479.5 267 488.9 267.2 484.8 267.5 488.8 267.8 487.9 268 493.3 268.3 488.6 268.5 495.4 268.8 491.8 269.1 498.9 269.3 496.7 269.6 502.6 269.8 496.1 270.1 505.7 270.4 498.9 270.6 510.2 270.9 503.8 271.1 507.6 271.4 505.2 271.6 510.5 271.9 509.9 272.1 513.9 272.4 509 272.6 515.4 272.9 509.7 273.1 519.3 273.4 515.8 273.6 519.8 273.9 515.7 274.2 521.6 274.4 520.6 274.7 526.3 274.9 526.2 275.2 532.5 275.5 525.7 275.7 528.6 276 521.2 276.2 519.9 276.5 513 276.8 508.1 277 497.8 277.3 493.1 277.5 478.7 277.8 476.8 278.1 470.9 278.3 477.3 278.6 471.2 278.8 475.6 279.1 472.6 279.4 480.1 279.6 477.5 279.9 482.4 280.1 478.7 280.4 484.2 280.7 485.8 280.9 497.1 281.2 500.3 281.4 512.1 281.7 513.9 282 517.6 282.2 508.8 282.5 511.8 282.7 500.1 283 504.1 283.3 500.4 283.5 504.8 283.8 495.2 284 497.7 284.3 489.7 284.5 497.3 284.8 496.1 285 501 285.3 497.2 285.5 504.1 285.8 504 286 508.7 286.3 508.5 286.5 515.6 286.8 513.9 287.1 514.7 287.3 508.5 287.6 511.6 287.8 504.3 288.1 507.3 288.4 497.3 288.6 502.7 288.9 491.8 289.1 494.6 289.4 484.5 289.6 498.3 289.9 494.8 290.1 502.2 290.3 504.8 290.6 505.1 290.8 499.4 291.1 505.8 291.3 497.6 291.6 502.8 291.8 492.6 292.1 494.4 292.3 484.5 292.6 486.2 292.9 486.4 293.1 495.3 293.4 494.6 293.6 507.7 293.9 508.7 294.2 513.2 294.4 509.6 294.7 519.2 294.9 516.1 295.2 523.7 295.5 512.6 295.7 513.2 296 505.5 296.2 508.1 296.5 497.3 296.7 500.8 297 498.1 297.2 502.4 297.5 492.1 297.7 498.9 298 490.6 298.2 494.5 298.5 489.6 298.7 494.5 299 483.9 299.3 491.3 299.5 486.6 299.8 496.7 300 492 300.3 496 300.6 491.7 300.8 494.3 301.1 485.5 301.3 489.6 301.6 480.6 301.9 483.8 302.1 476.3 302.4 481.1 302.6 473 302.9 472.9 303.2 470.4 303.4 479 303.7 473.8 303.9 483.5 304.2 481.2 304.5 486.8 304.7 483.4 305 492.5 305.2 489.7 305.5 499.9 305.8 494.3 306 500.4 306.3 495.2 306.5 505 306.8 499.4 307.1 507 307.3 503.8 307.6 508.1 307.8 504.7 308.1 511.6 308.4 507.7 308.6 514.9 308.9 511.8 309.1 520.1 309.4 518.8 309.6 523.4 309.9 522.9 310.1 527.5 310.4 526.2 310.6 532.5 310.9 523.5 311.1 519.7 311.4 512.3 311.6 507.4 311.9 497.9 312.2 497.9 312.4 487.3 312.7 488.8 312.9 476.9 313.2 475.5 313.5 471.8 313.7 476.4 314 470 314.2 478.6 314.5 474.7 314.8 482.5 315 484.6 315.3 493.7 315.5 492.9 315.8 504.3 316.1 503.2 316.3 510.8 316.6 512.3 316.8 518.6 317.1 520.2 317.4 519.6 317.6 511.5 317.9 515.3 318.1 506.8 318.4 510.2 318.7 500.8 318.9 506.1 319.2 499 319.4 499.4 319.7 495.2 320 503.1 320.2 499.6 320.5 508.6 320.7 501.4 321 511.5 321.4 520" stroke="#ff7f0e" stroke-width="1.1" fill="none" stroke-linejoin="round" opacity="1"/>
<path d="M321.4 520V532.5H352.2" stroke="#ff7f0e" stroke-width="0.7" fill="none" opacity="0.75"/>
<rect x="21.5" y="100.5" width="99.5" height="14.7" rx="1" fill="#fff" fill-opacity="0.8" stroke="#d6d6d6" stroke-width="0.5"/>
<line x1="23.9" y1="105.6" x2="32.8" y2="105.6" stroke="#1f77b4" stroke-width="0.55" opacity="0.8"/>
<text x="36.4" y="107.2" font-size="4.5">kernel.sched_rr_timeslice</text>
<line x1="23.9" y1="112.4" x2="32.8" y2="112.4" stroke="#ff7f0e" stroke-width="0.55" opacity="0.8"/>
<text x="36.4" y="114" font-size="4.5">kernel.sched_wakeup_granularity_ns</text>
<rect x="21.5" y="282.3" width="99.5" height="14.7" rx="1" fill="#fff" fill-opacity="0.8" stroke="#d6d6d6" stroke-width="0.5"/>
<line x1="23.9" y1="287.4" x2="32.8" y2="287.4" stroke="#1f77b4" stroke-width="0.55" opacity="0.8"/>
<text x="36.4" y="289" font-size="4.5">kernel.sched_rr_timeslice</text>
<line x1="23.9" y1="294.2" x2="32.8" y2="294.2" stroke="#ff7f0e" stroke-width="0.55" opacity="0.8"/>
<text x="36.4" y="295.8" font-size="4.5">kernel.sched_wakeup_granularity_ns</text>
<rect x="21.5" y="464.2" width="99.5" height="14.7" rx="1" fill="#fff" fill-opacity="0.8" stroke="#d6d6d6" stroke-width="0.5"/>
<line x1="23.9" y1="469.3" x2="32.8" y2="469.3" stroke="#1f77b4" stroke-width="0.55" opacity="0.8"/>
<text x="36.4" y="470.9" font-size="4.5">kernel.sched_rr_timeslice</text>
<line x1="23.9" y1="476.1" x2="32.8" y2="476.1" stroke="#ff7f0e" stroke-width="0.55" opacity="0.8"/>
<text x="36.4" y="477.7" font-size="4.5">kernel.sched_wakeup_granularity_ns</text>
</svg>
</body></html>
